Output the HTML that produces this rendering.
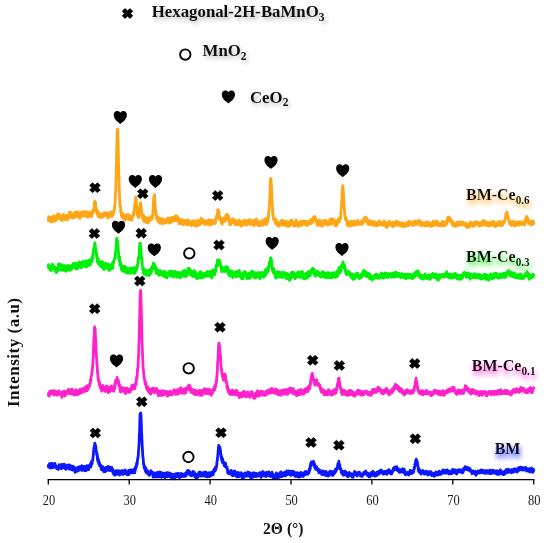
<!DOCTYPE html>
<html lang="en">
<head>
<meta charset="utf-8">
<title>XRD patterns</title>
<style>
html,body{margin:0;padding:0;background:#fff;}
body{width:550px;height:543px;overflow:hidden;}
svg{display:block;filter:blur(0.3px);font-family:"Liberation Serif","DejaVu Serif",serif;}
.cv{fill:none;stroke-width:2.8;stroke-linejoin:round;stroke-linecap:round;}
.b{font-weight:bold;fill:#111;}
.ax line{stroke:#000;stroke-width:1.3;}
.tk text{font-size:14.5px;fill:#1a1a1a;text-anchor:middle;}
</style>
</head>
<body>
<svg width="550" height="543" viewBox="0 0 550 543">
<defs>
<path id="cr" d="M5.4,2.25 L2.43,5 L0,2.75 L-2.43,5 L-5.4,2.25 L-2.97,0 L-5.4,-2.25 L-2.43,-5 L0,-2.75 L2.43,-5 L5.4,-2.25 L2.97,0 Z" fill="#000" stroke="#000" stroke-width="0.6" stroke-linejoin="round"/>
<path id="ht" d="M0,6.5 C-2.2,4.7 -6.6,1.9 -6.6,-2.4 C-6.6,-5 -4.9,-6.4 -3.2,-6.4 C-1.8,-6.4 -0.6,-5.7 0,-4.7 C0.6,-5.7 1.8,-6.4 3.2,-6.4 C4.9,-6.4 6.6,-5 6.6,-2.4 C6.6,1.9 2.2,4.7 0,6.5 Z" fill="#000"/>
<filter id="sg" x="-20%" y="-40%" width="140%" height="200%"><feGaussianBlur in="SourceAlpha" stdDeviation="2"/><feOffset dx="1.5" dy="3"/><feComponentTransfer><feFuncA type="linear" slope="0.28"/></feComponentTransfer><feMerge><feMergeNode/><feMergeNode in="SourceGraphic"/></feMerge></filter>
</defs>
<rect width="550" height="543" fill="#fff"/>

<!-- legend -->
<g class="b" font-size="17.6px" filter="url(#sg)">
<text transform="translate(151.8,17) scale(0.955,1)">Hexagonal-2H-BaMnO<tspan font-size="12px" dy="3.6">3</tspan></text>
<text transform="translate(202.6,56.4) scale(0.955,1)">MnO<tspan font-size="12px" dy="3.6">2</tspan></text>
<text transform="translate(250,102.5) scale(0.955,1)">CeO<tspan font-size="12px" dy="3.6">2</tspan></text>
</g>

<!-- curves -->
<polyline class="cv" stroke="#ffa616" points="48.3,219.1 48.5,220.5 48.7,216.6 48.9,218.6 49.1,218.0 49.3,217.7 49.5,218.5 49.7,219.1 49.9,219.8 50.1,220.1 50.3,219.4 50.5,220.8 50.7,218.8 50.9,222.0 51.1,217.5 51.3,220.8 51.5,219.0 51.7,220.1 51.9,217.2 52.1,217.3 52.3,220.4 52.5,221.5 52.7,218.1 52.9,219.6 53.1,219.7 53.3,220.1 53.5,216.2 53.7,215.6 53.9,216.6 54.1,220.7 54.3,217.2 54.5,218.7 54.7,221.4 54.9,219.4 55.1,220.6 55.3,218.5 55.5,220.0 55.7,220.6 55.9,216.5 56.1,219.6 56.3,220.3 56.5,219.0 56.7,216.1 56.9,218.5 57.1,214.6 57.3,216.1 57.5,218.4 57.7,215.4 57.9,215.1 58.1,214.6 58.3,213.7 58.5,217.3 58.7,214.7 58.9,215.1 59.1,216.7 59.3,214.6 59.5,218.1 59.7,216.4 59.9,218.3 60.1,218.7 60.3,215.9 60.5,217.6 60.7,219.1 60.9,218.5 61.1,216.9 61.3,219.8 61.5,219.8 61.7,218.3 61.9,220.6 62.1,219.0 62.3,220.3 62.5,216.0 62.7,215.9 62.9,219.1 63.1,216.5 63.3,214.5 63.5,218.4 63.7,215.7 63.9,218.1 64.1,217.8 64.3,219.1 64.5,218.2 64.7,219.0 64.9,216.7 65.1,216.3 65.3,219.7 65.5,216.8 65.7,219.7 65.9,217.8 66.1,217.8 66.3,215.1 66.5,218.9 66.7,216.4 66.9,217.0 67.1,216.5 67.3,215.8 67.5,219.8 67.7,217.8 67.9,215.3 68.1,217.9 68.3,216.0 68.5,217.2 68.7,218.3 68.9,215.3 69.1,217.2 69.3,215.7 69.5,212.1 69.7,216.9 69.9,215.2 70.1,217.1 70.3,212.5 70.5,212.2 70.7,216.7 70.9,215.6 71.1,213.0 71.3,216.3 71.5,217.0 71.7,217.7 71.9,216.4 72.1,213.8 72.3,214.0 72.5,214.1 72.7,213.9 72.9,215.3 73.1,218.0 73.3,216.7 73.5,216.0 73.7,217.5 73.9,213.9 74.1,214.7 74.3,215.4 74.5,217.5 74.7,215.4 74.9,212.3 75.1,216.3 75.3,212.7 75.5,215.9 75.7,213.7 75.9,216.5 76.1,215.5 76.3,215.0 76.5,212.8 76.7,212.0 76.9,212.5 77.1,212.6 77.3,213.4 77.5,214.0 77.7,216.3 77.9,214.9 78.1,212.0 78.3,212.5 78.5,217.2 78.7,215.9 78.9,214.1 79.1,214.1 79.3,216.4 79.5,213.6 79.7,216.1 79.9,218.5 80.1,217.9 80.3,214.2 80.5,215.5 80.7,215.3 80.9,216.5 81.1,213.2 81.3,212.0 81.5,212.3 81.7,213.9 81.9,214.3 82.1,214.2 82.3,213.1 82.5,216.0 82.7,214.3 82.9,213.0 83.1,213.6 83.3,214.7 83.5,214.2 83.7,212.5 83.9,211.4 84.1,213.3 84.3,214.8 84.5,212.9 84.7,215.7 84.9,211.8 85.1,212.9 85.3,216.4 85.5,213.1 85.7,215.5 85.9,215.1 86.1,216.2 86.3,213.2 86.5,211.9 86.7,215.2 86.9,215.8 87.1,216.3 87.3,216.2 87.5,211.7 87.7,213.0 87.9,214.8 88.1,217.3 88.3,216.4 88.5,214.7 88.7,216.6 88.9,214.8 89.1,213.3 89.3,213.5 89.5,214.2 89.7,213.5 89.9,215.4 90.1,215.0 90.3,212.5 90.5,215.6 90.7,212.1 90.9,211.9 91.1,212.3 91.3,214.3 91.5,211.6 91.7,216.5 91.9,216.3 92.1,211.8 92.3,212.8 92.5,213.2 92.7,210.8 92.9,213.3 93.1,210.1 93.3,212.6 93.5,209.4 93.7,209.6 93.9,207.8 94.1,207.0 94.3,203.4 94.5,202.7 94.7,203.5 94.9,201.0 95.1,202.0 95.3,203.3 95.5,202.2 95.7,206.9 95.9,207.2 96.1,209.8 96.3,207.9 96.5,211.8 96.7,211.1 96.9,210.2 97.1,214.3 97.3,214.0 97.5,210.9 97.7,212.8 97.9,214.7 98.1,216.3 98.3,211.7 98.5,216.6 98.7,213.6 98.9,216.8 99.1,215.2 99.3,216.4 99.5,215.4 99.7,216.0 99.9,214.1 100.1,216.0 100.3,216.7 100.5,217.7 100.7,217.4 100.9,216.7 101.1,217.5 101.3,214.7 101.5,216.2 101.7,214.6 101.9,214.1 102.1,214.5 102.3,214.5 102.5,213.9 102.7,215.1 102.9,214.3 103.1,217.1 103.3,215.7 103.5,213.1 103.7,214.4 103.9,213.8 104.1,215.5 104.3,215.7 104.5,215.7 104.7,214.6 104.9,212.6 105.1,212.8 105.3,215.4 105.5,213.7 105.7,215.1 105.9,214.2 106.1,215.3 106.3,214.8 106.5,216.1 106.7,215.3 106.9,215.0 107.1,214.0 107.3,212.6 107.5,214.5 107.7,212.9 107.9,218.1 108.1,214.0 108.3,217.3 108.5,217.5 108.7,215.8 108.9,215.1 109.1,213.2 109.3,214.7 109.5,213.8 109.7,213.2 109.9,214.6 110.1,213.3 110.3,215.8 110.5,216.2 110.7,212.9 110.9,211.8 111.1,211.9 111.3,213.3 111.5,215.2 111.7,213.2 111.9,213.4 112.1,216.3 112.3,214.0 112.5,215.3 112.7,213.3 112.9,212.4 113.1,214.6 113.3,214.4 113.5,211.4 113.7,212.7 113.9,211.3 114.1,211.0 114.3,207.8 114.5,209.2 114.7,205.2 114.9,204.7 115.1,203.4 115.3,196.5 115.5,193.8 115.7,191.7 115.9,185.3 116.1,176.1 116.3,170.0 116.5,161.8 116.7,151.9 116.9,143.3 117.1,132.4 117.3,129.8 117.5,129.1 117.7,131.0 117.9,138.2 118.1,142.1 118.3,153.6 118.5,162.3 118.7,168.4 118.9,176.5 119.1,184.7 119.3,189.5 119.5,196.3 119.7,198.5 119.9,203.3 120.1,207.1 120.3,205.7 120.5,206.4 120.7,211.4 120.9,210.5 121.1,214.1 121.3,213.0 121.5,216.4 121.7,214.5 121.9,214.3 122.1,213.1 122.3,215.1 122.5,213.6 122.7,214.7 122.9,218.0 123.1,213.8 123.3,215.5 123.5,218.1 123.7,217.3 123.9,217.9 124.1,215.4 124.3,217.3 124.5,218.2 124.7,220.2 124.9,215.9 125.1,216.5 125.3,216.7 125.5,219.0 125.7,217.4 125.9,215.4 126.1,217.2 126.3,215.1 126.5,218.5 126.7,216.3 126.9,214.5 127.1,217.5 127.3,219.0 127.5,216.1 127.7,218.2 127.9,217.2 128.1,217.1 128.3,219.1 128.5,218.5 128.7,214.6 128.9,218.4 129.1,217.0 129.3,219.7 129.5,216.4 129.7,216.4 129.9,215.5 130.1,217.9 130.3,216.2 130.5,218.7 130.7,218.9 130.9,218.8 131.1,219.7 131.3,217.4 131.5,220.2 131.7,218.6 131.9,220.4 132.1,219.1 132.3,216.6 132.5,216.1 132.7,215.7 132.9,215.2 133.1,216.6 133.3,213.8 133.5,212.3 133.7,214.9 133.9,211.8 134.1,212.5 134.3,209.7 134.5,207.4 134.7,205.8 134.9,204.0 135.1,203.7 135.3,200.2 135.5,201.3 135.7,196.8 135.9,201.2 136.1,199.0 136.3,203.6 136.5,202.8 136.7,207.6 136.9,206.8 137.1,213.0 137.3,214.2 137.5,215.2 137.7,216.1 137.9,212.8 138.1,213.6 138.3,214.0 138.5,216.6 138.7,217.8 138.9,217.2 139.1,215.3 139.3,213.9 139.5,213.1 139.7,208.9 139.9,206.3 140.1,204.6 140.3,203.0 140.5,206.0 140.7,202.9 140.9,204.6 141.1,208.8 141.3,208.2 141.5,213.4 141.7,210.9 141.9,213.8 142.1,213.7 142.3,217.8 142.5,215.4 142.7,215.9 142.9,217.2 143.1,219.9 143.3,215.0 143.5,219.0 143.7,221.2 143.9,217.2 144.1,219.3 144.3,218.2 144.5,221.5 144.7,220.2 144.9,220.8 145.1,220.0 145.3,221.2 145.5,219.7 145.7,217.3 145.9,220.2 146.1,219.6 146.3,221.1 146.5,222.7 146.7,220.5 146.9,219.2 147.1,219.8 147.3,222.9 147.5,223.1 147.7,222.7 147.9,222.9 148.1,219.0 148.3,218.1 148.5,219.5 148.7,219.4 148.9,219.0 149.1,220.7 149.3,219.8 149.5,221.1 149.7,218.1 149.9,220.7 150.1,217.8 150.3,219.7 150.5,218.0 150.7,216.7 150.9,217.6 151.1,219.6 151.3,218.1 151.5,218.4 151.7,216.0 151.9,217.5 152.1,219.1 152.3,217.3 152.5,215.2 152.7,215.9 152.9,213.3 153.1,209.0 153.3,203.8 153.5,201.5 153.7,198.0 153.9,197.7 154.1,195.9 154.3,198.4 154.5,194.7 154.7,200.5 154.9,202.3 155.1,205.7 155.3,207.6 155.5,210.1 155.7,211.9 155.9,211.2 156.1,214.0 156.3,216.1 156.5,218.8 156.7,217.6 156.9,217.6 157.1,216.8 157.3,216.0 157.5,220.4 157.7,218.0 157.9,221.7 158.1,218.3 158.3,218.2 158.5,218.8 158.7,221.1 158.9,220.2 159.1,218.2 159.3,219.8 159.5,221.2 159.7,222.7 159.9,223.2 160.1,219.7 160.3,219.7 160.5,222.1 160.7,223.2 160.9,218.7 161.1,222.2 161.3,222.1 161.5,220.3 161.7,222.4 161.9,221.7 162.1,218.6 162.3,221.5 162.5,223.9 162.7,223.9 162.9,222.9 163.1,223.1 163.3,222.5 163.5,220.9 163.7,222.4 163.9,222.5 164.1,220.7 164.3,223.2 164.5,219.6 164.7,222.6 164.9,220.6 165.1,223.1 165.3,221.0 165.5,222.9 165.7,220.5 165.9,220.1 166.1,222.7 166.3,220.4 166.5,222.7 166.7,222.2 166.9,219.2 167.1,219.4 167.3,219.2 167.5,219.0 167.7,220.1 167.9,218.0 168.1,218.9 168.3,221.4 168.5,222.0 168.7,218.2 168.9,219.3 169.1,219.2 169.3,223.2 169.5,222.4 169.7,221.6 169.9,220.3 170.1,222.8 170.3,220.8 170.5,222.7 170.7,221.5 170.9,220.3 171.1,217.7 171.3,222.4 171.5,217.6 171.7,217.7 171.9,218.9 172.1,218.5 172.3,217.3 172.5,220.3 172.7,217.9 172.9,219.9 173.1,220.8 173.3,217.6 173.5,219.9 173.7,220.1 173.9,219.5 174.1,219.4 174.3,217.4 174.5,219.8 174.7,220.8 174.9,218.4 175.1,220.3 175.3,216.0 175.5,220.0 175.7,217.2 175.9,217.9 176.1,217.0 176.3,216.0 176.5,220.6 176.7,217.8 176.9,218.8 177.1,218.2 177.3,216.9 177.5,217.5 177.7,216.8 177.9,219.6 178.1,219.1 178.3,219.9 178.5,218.8 178.7,222.4 178.9,218.7 179.1,224.0 179.3,220.2 179.5,221.9 179.7,218.9 179.9,223.3 180.1,220.1 180.3,222.0 180.5,223.4 180.7,219.9 180.9,222.4 181.1,220.4 181.3,222.7 181.5,223.3 181.7,220.5 181.9,223.9 182.1,219.7 182.3,223.8 182.5,221.8 182.7,221.7 182.9,223.4 183.1,223.6 183.3,224.9 183.5,221.4 183.7,220.4 183.9,224.5 184.1,223.5 184.3,222.8 184.5,221.6 184.7,222.5 184.9,222.5 185.1,220.6 185.3,223.4 185.5,222.9 185.7,221.8 185.9,221.3 186.1,223.2 186.3,220.1 186.5,224.2 186.7,224.8 186.9,221.3 187.1,220.3 187.3,220.8 187.5,221.6 187.7,224.9 187.9,223.0 188.1,221.4 188.3,220.0 188.5,221.0 188.7,222.7 188.9,221.6 189.1,222.5 189.3,222.2 189.5,223.9 189.7,222.2 189.9,221.9 190.1,224.2 190.3,222.5 190.5,223.8 190.7,222.6 190.9,224.2 191.1,225.5 191.3,223.7 191.5,225.6 191.7,223.3 191.9,224.0 192.1,221.2 192.3,222.4 192.5,224.5 192.7,223.4 192.9,224.2 193.1,222.7 193.3,222.4 193.5,224.0 193.7,220.7 193.9,223.3 194.1,225.2 194.3,223.3 194.5,222.2 194.7,225.5 194.9,222.1 195.1,224.9 195.3,224.0 195.5,226.0 195.7,224.1 195.9,225.9 196.1,221.5 196.3,226.2 196.5,221.4 196.7,222.3 196.9,225.8 197.1,220.8 197.3,224.8 197.5,225.2 197.7,222.9 197.9,221.4 198.1,223.8 198.3,222.2 198.5,220.1 198.7,225.0 198.9,224.2 199.1,222.4 199.3,224.3 199.5,221.7 199.7,222.9 199.9,221.3 200.1,221.6 200.3,220.2 200.5,224.3 200.7,220.3 200.9,219.3 201.1,218.9 201.3,218.0 201.5,222.1 201.7,221.0 201.9,222.2 202.1,221.0 202.3,222.4 202.5,222.0 202.7,222.6 202.9,221.0 203.1,222.5 203.3,220.2 203.5,220.7 203.7,220.1 203.9,221.7 204.1,220.9 204.3,221.9 204.5,224.5 204.7,221.0 204.9,224.3 205.1,222.6 205.3,221.1 205.5,223.7 205.7,222.9 205.9,221.0 206.1,223.8 206.3,221.7 206.5,222.1 206.7,221.9 206.9,224.1 207.1,221.5 207.3,224.4 207.5,221.3 207.7,222.6 207.9,222.2 208.1,223.6 208.3,223.8 208.5,219.6 208.7,222.1 208.9,223.5 209.1,221.8 209.3,224.3 209.5,221.4 209.7,222.7 209.9,223.1 210.1,221.1 210.3,220.1 210.5,222.3 210.7,225.1 210.9,222.2 211.1,223.4 211.3,220.3 211.5,220.9 211.7,220.4 211.9,224.0 212.1,224.2 212.3,223.9 212.5,221.9 212.7,223.5 212.9,221.0 213.1,222.6 213.3,222.6 213.5,222.5 213.7,220.4 213.9,222.6 214.1,223.2 214.3,222.4 214.5,222.2 214.7,220.4 214.9,220.4 215.1,222.1 215.3,223.5 215.5,219.5 215.7,220.9 215.9,220.1 216.1,219.5 216.3,216.9 216.5,217.1 216.7,215.5 216.9,217.6 217.1,216.3 217.3,213.7 217.5,213.4 217.7,209.8 217.9,211.1 218.1,209.6 218.3,213.0 218.5,212.4 218.7,213.1 218.9,211.1 219.1,214.1 219.3,218.1 219.5,218.8 219.7,218.2 219.9,216.4 220.1,219.5 220.3,219.7 220.5,220.0 220.7,219.6 220.9,220.9 221.1,222.3 221.3,221.6 221.5,220.8 221.7,223.4 221.9,219.2 222.1,224.3 222.3,219.2 222.5,219.8 222.7,220.9 222.9,219.8 223.1,221.9 223.3,218.7 223.5,220.3 223.7,218.0 223.9,221.4 224.1,221.3 224.3,219.9 224.5,218.7 224.7,221.5 224.9,218.6 225.1,221.2 225.3,219.0 225.5,218.7 225.7,215.9 225.9,218.4 226.1,215.7 226.3,214.7 226.5,215.2 226.7,214.9 226.9,215.3 227.1,217.7 227.3,214.5 227.5,216.6 227.7,216.0 227.9,218.3 228.1,216.3 228.3,216.2 228.5,220.5 228.7,216.1 228.9,222.0 229.1,221.2 229.3,221.0 229.5,224.5 229.7,219.6 229.9,222.4 230.1,220.0 230.3,222.8 230.5,220.3 230.7,223.0 230.9,224.5 231.1,222.9 231.3,220.6 231.5,222.3 231.7,222.3 231.9,220.7 232.1,220.9 232.3,218.6 232.5,220.1 232.7,218.9 232.9,221.7 233.1,220.9 233.3,220.7 233.5,222.8 233.7,221.7 233.9,221.1 234.1,220.8 234.3,220.4 234.5,222.3 234.7,219.8 234.9,221.2 235.1,222.1 235.3,224.8 235.5,220.8 235.7,223.4 235.9,222.9 236.1,224.4 236.3,221.0 236.5,220.9 236.7,222.9 236.9,224.7 237.1,222.0 237.3,224.9 237.5,222.2 237.7,222.1 237.9,221.0 238.1,222.5 238.3,222.2 238.5,223.5 238.7,220.5 238.9,221.0 239.1,220.0 239.3,220.3 239.5,223.1 239.7,222.3 239.9,221.7 240.1,223.4 240.3,225.5 240.5,225.0 240.7,224.3 240.9,226.0 241.1,221.3 241.3,222.1 241.5,224.1 241.7,223.0 241.9,225.8 242.1,223.0 242.3,223.5 242.5,224.8 242.7,222.0 242.9,224.1 243.1,221.1 243.3,220.6 243.5,221.0 243.7,221.9 243.9,220.5 244.1,222.9 244.3,220.3 244.5,220.2 244.7,224.7 244.9,221.3 245.1,221.7 245.3,222.8 245.5,222.6 245.7,220.5 245.9,224.6 246.1,225.2 246.3,224.3 246.5,221.5 246.7,222.9 246.9,221.4 247.1,222.2 247.3,224.6 247.5,220.7 247.7,222.3 247.9,220.8 248.1,223.1 248.3,220.5 248.5,223.6 248.7,222.5 248.9,222.7 249.1,221.6 249.3,220.3 249.5,219.8 249.7,221.5 249.9,219.6 250.1,222.9 250.3,223.2 250.5,222.3 250.7,224.5 250.9,223.6 251.1,221.1 251.3,221.6 251.5,221.8 251.7,222.5 251.9,221.0 252.1,223.7 252.3,223.5 252.5,224.0 252.7,222.7 252.9,224.9 253.1,222.8 253.3,220.4 253.5,224.7 253.7,224.0 253.9,224.8 254.1,225.8 254.3,220.7 254.5,221.2 254.7,220.5 254.9,221.9 255.1,224.1 255.3,220.3 255.5,222.4 255.7,220.3 255.9,223.3 256.1,223.3 256.3,218.9 256.5,221.6 256.7,220.4 256.9,224.5 257.1,224.4 257.3,222.4 257.5,224.6 257.7,221.0 257.9,224.7 258.1,222.6 258.3,222.2 258.5,225.5 258.7,224.4 258.9,221.5 259.1,225.8 259.3,225.2 259.5,224.4 259.7,225.3 259.9,223.0 260.1,225.1 260.3,225.5 260.5,221.9 260.7,221.7 260.9,225.1 261.1,223.7 261.3,223.0 261.5,221.6 261.7,221.9 261.9,224.7 262.1,221.7 262.3,220.5 262.5,224.4 262.7,221.3 262.9,224.7 263.1,225.2 263.3,223.1 263.5,223.3 263.7,222.6 263.9,222.7 264.1,223.9 264.3,220.4 264.5,223.1 264.7,221.3 264.9,218.6 265.1,219.3 265.3,221.4 265.5,220.1 265.7,219.6 265.9,219.9 266.1,223.1 266.3,222.1 266.5,224.6 266.7,221.7 266.9,222.6 267.1,222.3 267.3,221.6 267.5,218.1 267.7,220.8 267.9,221.2 268.1,218.5 268.3,216.0 268.5,217.2 268.7,211.2 268.9,210.9 269.1,211.3 269.3,207.0 269.5,204.7 269.7,199.4 269.9,195.6 270.1,190.8 270.3,183.0 270.5,178.6 270.7,180.1 270.9,178.7 271.1,179.4 271.3,185.3 271.5,186.7 271.7,192.8 271.9,200.4 272.1,200.5 272.3,206.0 272.5,207.3 272.7,214.5 272.9,214.9 273.1,214.7 273.3,219.0 273.5,218.1 273.7,218.1 273.9,219.5 274.1,218.6 274.3,220.0 274.5,220.4 274.7,220.2 274.9,221.7 275.1,222.2 275.3,219.1 275.5,223.8 275.7,223.2 275.9,223.8 276.1,223.9 276.3,219.7 276.5,222.6 276.7,222.9 276.9,224.7 277.1,223.7 277.3,225.3 277.5,225.4 277.7,225.5 277.9,225.0 278.1,222.6 278.3,225.8 278.5,225.7 278.7,226.3 278.9,222.7 279.1,222.5 279.3,223.6 279.5,223.4 279.7,225.7 279.9,224.7 280.1,225.2 280.3,223.7 280.5,221.5 280.7,220.9 280.9,222.6 281.1,221.7 281.3,225.0 281.5,223.0 281.7,223.4 281.9,222.2 282.1,220.3 282.3,220.9 282.5,222.2 282.7,221.5 282.9,220.3 283.1,223.5 283.3,223.3 283.5,222.1 283.7,225.1 283.9,223.4 284.1,225.4 284.3,224.2 284.5,224.3 284.7,221.7 284.9,223.3 285.1,225.3 285.3,222.4 285.5,225.2 285.7,225.1 285.9,221.8 286.1,223.8 286.3,225.4 286.5,221.1 286.7,225.5 286.9,222.3 287.1,226.3 287.3,225.6 287.5,223.9 287.7,222.9 287.9,225.5 288.1,226.4 288.3,225.9 288.5,224.6 288.7,226.3 288.9,224.0 289.1,221.9 289.3,222.9 289.5,222.7 289.7,225.8 289.9,222.7 290.1,225.7 290.3,223.0 290.5,221.5 290.7,220.7 290.9,222.5 291.1,220.3 291.3,222.7 291.5,221.2 291.7,224.1 291.9,223.8 292.1,220.2 292.3,221.8 292.5,222.9 292.7,223.7 292.9,224.3 293.1,223.5 293.3,222.9 293.5,222.6 293.7,226.1 293.9,222.2 294.1,225.6 294.3,222.4 294.5,224.3 294.7,222.6 294.9,225.9 295.1,222.1 295.3,222.4 295.5,224.7 295.7,222.8 295.9,220.9 296.1,219.8 296.3,221.6 296.5,221.2 296.7,222.0 296.9,225.3 297.1,225.2 297.3,224.6 297.5,224.3 297.7,226.1 297.9,224.7 298.1,224.3 298.3,223.6 298.5,226.3 298.7,223.5 298.9,224.2 299.1,222.7 299.3,225.8 299.5,223.0 299.7,222.9 299.9,225.1 300.1,222.0 300.3,221.4 300.5,225.1 300.7,224.6 300.9,223.4 301.1,221.8 301.3,223.7 301.5,223.7 301.7,222.0 301.9,220.8 302.1,225.1 302.3,223.0 302.5,224.5 302.7,221.8 302.9,223.2 303.1,222.3 303.3,222.2 303.5,221.3 303.7,221.9 303.9,221.1 304.1,221.8 304.3,224.2 304.5,223.8 304.7,224.0 304.9,221.3 305.1,224.2 305.3,223.4 305.5,221.5 305.7,221.3 305.9,221.2 306.1,224.6 306.3,225.6 306.5,225.0 306.7,222.4 306.9,224.1 307.1,223.5 307.3,224.8 307.5,223.9 307.7,224.1 307.9,224.9 308.1,221.6 308.3,223.4 308.5,222.1 308.7,223.0 308.9,224.4 309.1,221.4 309.3,221.2 309.5,222.8 309.7,222.4 309.9,221.5 310.1,222.6 310.3,220.5 310.5,219.7 310.7,221.5 310.9,221.1 311.1,220.2 311.3,223.7 311.5,222.8 311.7,222.0 311.9,222.0 312.1,220.8 312.3,221.5 312.5,222.3 312.7,221.8 312.9,218.2 313.1,218.3 313.3,217.4 313.5,221.0 313.7,217.7 313.9,219.5 314.1,217.1 314.3,217.5 314.5,218.7 314.7,216.3 314.9,218.3 315.1,219.4 315.3,217.8 315.5,219.3 315.7,219.5 315.9,219.5 316.1,220.9 316.3,221.6 316.5,222.5 316.7,222.3 316.9,221.1 317.1,223.2 317.3,225.5 317.5,223.5 317.7,225.3 317.9,222.9 318.1,224.3 318.3,220.6 318.5,223.4 318.7,222.2 318.9,220.1 319.1,221.4 319.3,222.0 319.5,223.7 319.7,220.2 319.9,222.7 320.1,224.5 320.3,224.0 320.5,225.7 320.7,221.4 320.9,222.3 321.1,225.3 321.3,225.4 321.5,224.5 321.7,225.5 321.9,225.7 322.1,225.7 322.3,226.5 322.5,222.2 322.7,221.8 322.9,221.8 323.1,220.8 323.3,224.8 323.5,220.7 323.7,223.8 323.9,223.0 324.1,221.9 324.3,220.7 324.5,220.9 324.7,220.7 324.9,223.9 325.1,223.7 325.3,220.1 325.5,222.0 325.7,221.5 325.9,220.3 326.1,224.7 326.3,224.0 326.5,222.1 326.7,224.4 326.9,222.0 327.1,221.5 327.3,224.6 327.5,224.8 327.7,223.2 327.9,225.2 328.1,224.8 328.3,223.5 328.5,223.2 328.7,224.1 328.9,222.9 329.1,223.2 329.3,224.7 329.5,223.6 329.7,220.4 329.9,219.3 330.1,219.6 330.3,220.3 330.5,219.3 330.7,221.6 330.9,222.4 331.1,218.8 331.3,222.6 331.5,223.7 331.7,224.0 331.9,219.4 332.1,218.9 332.3,219.2 332.5,220.6 332.7,219.5 332.9,220.5 333.1,221.0 333.3,223.1 333.5,220.3 333.7,219.7 333.9,221.0 334.1,222.3 334.3,219.9 334.5,223.2 334.7,223.7 334.9,224.3 335.1,225.4 335.3,223.2 335.5,223.4 335.7,222.0 335.9,222.8 336.1,226.2 336.3,222.8 336.5,225.1 336.7,224.9 336.9,225.0 337.1,220.8 337.3,224.4 337.5,223.3 337.7,220.9 337.9,221.1 338.1,219.4 338.3,220.5 338.5,219.2 338.7,219.5 338.9,218.8 339.1,220.9 339.3,220.0 339.5,221.5 339.7,218.3 339.9,219.7 340.1,217.1 340.3,218.9 340.5,218.9 340.7,218.0 340.9,211.6 341.1,210.4 341.3,207.7 341.5,204.0 341.7,200.5 341.9,198.8 342.1,192.6 342.3,189.5 342.5,188.4 342.7,185.7 342.9,185.7 343.1,189.1 343.3,190.9 343.5,195.4 343.7,198.4 343.9,202.7 344.1,204.8 344.3,207.7 344.5,209.3 344.7,214.4 344.9,215.8 345.1,217.4 345.3,215.4 345.5,219.8 345.7,220.0 345.9,217.7 346.1,218.5 346.3,220.3 346.5,219.7 346.7,221.3 346.9,220.9 347.1,224.6 347.3,222.5 347.5,224.6 347.7,223.3 347.9,223.1 348.1,225.7 348.3,222.0 348.5,224.0 348.7,224.5 348.9,223.6 349.1,221.6 349.3,224.0 349.5,223.7 349.7,225.9 349.9,223.6 350.1,223.4 350.3,222.5 350.5,224.3 350.7,225.9 350.9,221.3 351.1,224.6 351.3,221.8 351.5,221.6 351.7,221.8 351.9,224.7 352.1,224.7 352.3,222.1 352.5,225.7 352.7,224.8 352.9,223.6 353.1,223.7 353.3,224.2 353.5,222.0 353.7,221.1 353.9,222.3 354.1,221.2 354.3,224.5 354.5,223.2 354.7,222.5 354.9,224.5 355.1,222.2 355.3,223.2 355.5,223.0 355.7,222.5 355.9,221.7 356.1,225.2 356.3,221.5 356.5,224.1 356.7,221.6 356.9,221.0 357.1,222.9 357.3,223.5 357.5,223.8 357.7,221.4 357.9,220.3 358.1,224.0 358.3,223.6 358.5,224.4 358.7,223.5 358.9,224.3 359.1,224.3 359.3,222.5 359.5,222.8 359.7,222.7 359.9,223.5 360.1,223.3 360.3,222.7 360.5,223.7 360.7,222.4 360.9,223.5 361.1,221.2 361.3,221.0 361.5,224.3 361.7,223.3 361.9,221.3 362.1,222.2 362.3,224.4 362.5,220.4 362.7,220.2 362.9,222.3 363.1,220.5 363.3,222.7 363.5,221.4 363.7,221.5 363.9,218.3 364.1,218.9 364.3,220.6 364.5,219.4 364.7,217.7 364.9,218.8 365.1,219.9 365.3,217.1 365.5,220.2 365.7,220.7 365.9,221.3 366.1,219.5 366.3,218.0 366.5,219.9 366.7,217.8 366.9,218.5 367.1,219.6 367.3,220.7 367.5,222.6 367.7,220.2 367.9,222.7 368.1,224.3 368.3,220.7 368.5,222.4 368.7,223.7 368.9,224.5 369.1,221.8 369.3,224.3 369.5,222.3 369.7,224.7 369.9,220.9 370.1,220.6 370.3,224.6 370.5,223.7 370.7,223.0 370.9,222.0 371.1,224.1 371.3,221.7 371.5,222.4 371.7,222.1 371.9,223.4 372.1,224.0 372.3,224.7 372.5,225.0 372.7,223.3 372.9,223.1 373.1,222.8 373.3,225.2 373.5,221.4 373.7,224.6 373.9,222.6 374.1,224.0 374.3,224.3 374.5,222.0 374.7,222.0 374.9,223.4 375.1,224.6 375.3,224.5 375.5,222.6 375.7,225.9 375.9,223.8 376.1,225.4 376.3,224.2 376.5,222.7 376.7,223.4 376.9,225.7 377.1,225.2 377.3,225.9 377.5,223.1 377.7,224.4 377.9,224.7 378.1,224.4 378.3,222.7 378.5,223.1 378.7,221.8 378.9,224.9 379.1,224.9 379.3,221.0 379.5,223.7 379.7,222.0 379.9,223.3 380.1,221.6 380.3,223.3 380.5,222.4 380.7,222.2 380.9,224.5 381.1,224.8 381.3,223.1 381.5,222.2 381.7,225.1 381.9,224.6 382.1,224.9 382.3,222.8 382.5,225.0 382.7,222.8 382.9,224.2 383.1,225.0 383.3,225.2 383.5,223.2 383.7,224.5 383.9,224.9 384.1,223.7 384.3,221.0 384.5,221.7 384.7,221.7 384.9,222.4 385.1,222.4 385.3,225.2 385.5,222.2 385.7,223.2 385.9,226.4 386.1,227.3 386.3,226.2 386.5,227.4 386.7,223.3 386.9,227.3 387.1,224.2 387.3,225.9 387.5,226.3 387.7,226.5 387.9,224.4 388.1,225.8 388.3,222.7 388.5,225.3 388.7,223.9 388.9,225.2 389.1,221.1 389.3,224.5 389.5,223.5 389.7,223.1 389.9,222.3 390.1,222.6 390.3,222.4 390.5,222.7 390.7,225.1 390.9,223.9 391.1,222.4 391.3,225.7 391.5,224.8 391.7,225.7 391.9,224.8 392.1,223.9 392.3,226.1 392.5,222.3 392.7,226.2 392.9,226.7 393.1,223.8 393.3,222.4 393.5,224.1 393.7,222.4 393.9,224.8 394.1,222.9 394.3,223.1 394.5,225.7 394.7,225.6 394.9,223.3 395.1,225.1 395.3,222.5 395.5,225.3 395.7,223.0 395.9,222.4 396.1,221.1 396.3,224.8 396.5,221.9 396.7,223.4 396.9,223.3 397.1,223.8 397.3,221.6 397.5,225.1 397.7,224.6 397.9,223.2 398.1,225.2 398.3,223.0 398.5,224.8 398.7,223.6 398.9,224.6 399.1,222.9 399.3,225.3 399.5,222.2 399.7,222.3 399.9,222.3 400.1,223.0 400.3,223.6 400.5,226.3 400.7,223.1 400.9,225.4 401.1,225.3 401.3,224.5 401.5,224.2 401.7,224.5 401.9,223.6 402.1,226.1 402.3,226.3 402.5,225.0 402.7,225.9 402.9,223.0 403.1,226.5 403.3,226.0 403.5,224.9 403.7,223.5 403.9,224.0 404.1,224.3 404.3,226.0 404.5,225.8 404.7,224.6 404.9,224.9 405.1,226.1 405.3,226.6 405.5,225.1 405.7,225.7 405.9,223.4 406.1,225.6 406.3,224.8 406.5,223.4 406.7,224.4 406.9,224.8 407.1,225.0 407.3,222.1 407.5,223.9 407.7,225.7 407.9,225.0 408.1,223.3 408.3,225.9 408.5,222.9 408.7,223.1 408.9,225.0 409.1,224.3 409.3,224.8 409.5,221.1 409.7,222.4 409.9,222.5 410.1,222.4 410.3,224.4 410.5,224.0 410.7,223.3 410.9,223.1 411.1,224.0 411.3,223.4 411.5,223.6 411.7,223.9 411.9,223.1 412.1,224.9 412.3,222.4 412.5,224.6 412.7,225.6 412.9,221.7 413.1,224.6 413.3,222.2 413.5,223.9 413.7,224.0 413.9,221.9 414.1,225.1 414.3,223.8 414.5,222.4 414.7,224.8 414.9,221.7 415.1,223.3 415.3,220.9 415.5,222.6 415.7,221.5 415.9,223.3 416.1,223.6 416.3,223.3 416.5,223.5 416.7,224.2 416.9,224.3 417.1,223.7 417.3,223.1 417.5,222.8 417.7,224.4 417.9,223.9 418.1,221.4 418.3,222.8 418.5,223.8 418.7,220.5 418.9,223.3 419.1,223.6 419.3,222.6 419.5,220.9 419.7,221.7 419.9,224.6 420.1,221.5 420.3,222.8 420.5,224.0 420.7,222.2 420.9,225.8 421.1,221.9 421.3,223.9 421.5,224.3 421.7,222.3 421.9,223.4 422.1,223.9 422.3,225.1 422.5,224.6 422.7,224.2 422.9,224.7 423.1,223.7 423.3,223.9 423.5,224.2 423.7,222.8 423.9,225.5 424.1,224.4 424.3,225.9 424.5,222.9 424.7,223.8 424.9,225.5 425.1,224.9 425.3,225.0 425.5,224.3 425.7,225.1 425.9,225.7 426.1,222.2 426.3,224.8 426.5,225.8 426.7,222.0 426.9,223.0 427.1,222.2 427.3,225.2 427.5,221.8 427.7,225.5 427.9,223.0 428.1,225.7 428.3,222.7 428.5,223.6 428.7,224.9 428.9,224.2 429.1,223.6 429.3,223.8 429.5,224.5 429.7,223.8 429.9,223.3 430.1,222.7 430.3,223.1 430.5,222.8 430.7,225.7 430.9,226.7 431.1,225.0 431.3,223.5 431.5,224.9 431.7,225.4 431.9,224.3 432.1,225.7 432.3,226.1 432.5,225.7 432.7,224.3 432.9,223.0 433.1,223.7 433.3,221.2 433.5,225.5 433.7,222.4 433.9,225.1 434.1,224.7 434.3,224.7 434.5,222.1 434.7,222.3 434.9,223.1 435.1,224.7 435.3,222.9 435.5,224.5 435.7,222.2 435.9,223.6 436.1,225.2 436.3,222.9 436.5,221.0 436.7,222.4 436.9,221.8 437.1,222.5 437.3,221.8 437.5,221.4 437.7,224.2 437.9,224.6 438.1,225.2 438.3,222.9 438.5,225.5 438.7,225.7 438.9,225.3 439.1,223.3 439.3,223.7 439.5,223.4 439.7,224.2 439.9,224.2 440.1,224.2 440.3,225.5 440.5,225.8 440.7,225.5 440.9,225.9 441.1,224.7 441.3,225.9 441.5,225.1 441.7,224.6 441.9,222.6 442.1,223.9 442.3,221.4 442.5,221.6 442.7,221.7 442.9,224.0 443.1,222.6 443.3,223.6 443.5,222.2 443.7,223.0 443.9,225.9 444.1,223.9 444.3,222.5 444.5,224.1 444.7,225.5 444.9,224.8 445.1,222.0 445.3,222.1 445.5,224.5 445.7,221.8 445.9,222.1 446.1,221.6 446.3,224.4 446.5,222.4 446.7,222.7 446.9,222.9 447.1,223.6 447.3,221.2 447.5,218.4 447.7,221.2 447.9,217.5 448.1,220.8 448.3,218.9 448.5,220.0 448.7,218.5 448.9,217.4 449.1,217.0 449.3,218.1 449.5,221.0 449.7,218.0 449.9,219.6 450.1,219.2 450.3,221.4 450.5,221.5 450.7,220.4 450.9,219.6 451.1,220.1 451.3,221.2 451.5,221.7 451.7,222.8 451.9,223.8 452.1,221.0 452.3,224.3 452.5,223.3 452.7,224.1 452.9,225.6 453.1,223.1 453.3,223.3 453.5,224.4 453.7,223.5 453.9,223.0 454.1,223.0 454.3,224.0 454.5,226.1 454.7,225.5 454.9,226.4 455.1,225.4 455.3,224.5 455.5,225.3 455.7,224.5 455.9,223.4 456.1,226.4 456.3,224.3 456.5,224.6 456.7,225.8 456.9,225.8 457.1,222.1 457.3,222.4 457.5,222.8 457.7,222.2 457.9,223.1 458.1,224.8 458.3,225.1 458.5,223.9 458.7,222.7 458.9,222.8 459.1,225.1 459.3,222.4 459.5,224.1 459.7,225.1 459.9,222.9 460.1,222.4 460.3,221.6 460.5,222.2 460.7,224.6 460.9,222.2 461.1,222.6 461.3,222.4 461.5,224.8 461.7,223.3 461.9,223.9 462.1,222.8 462.3,224.0 462.5,224.2 462.7,223.9 462.9,223.2 463.1,222.1 463.3,225.0 463.5,222.4 463.7,223.4 463.9,222.7 464.1,222.6 464.3,224.3 464.5,223.7 464.7,222.8 464.9,223.8 465.1,223.3 465.3,224.7 465.5,223.1 465.7,226.1 465.9,225.1 466.1,225.6 466.3,224.3 466.5,224.0 466.7,225.3 466.9,227.5 467.1,224.0 467.3,224.9 467.5,226.3 467.7,225.5 467.9,224.2 468.1,224.1 468.3,225.1 468.5,226.0 468.7,226.1 468.9,226.7 469.1,225.9 469.3,223.7 469.5,227.1 469.7,226.1 469.9,223.6 470.1,223.5 470.3,225.4 470.5,221.9 470.7,224.0 470.9,222.3 471.1,224.6 471.3,222.6 471.5,224.5 471.7,222.7 471.9,224.5 472.1,225.6 472.3,224.3 472.5,223.5 472.7,225.8 472.9,226.2 473.1,224.5 473.3,224.8 473.5,226.1 473.7,226.0 473.9,225.4 474.1,225.2 474.3,225.5 474.5,225.6 474.7,221.9 474.9,223.1 475.1,223.6 475.3,224.8 475.5,222.2 475.7,223.3 475.9,221.9 476.1,222.4 476.3,223.1 476.5,224.1 476.7,223.2 476.9,224.3 477.1,224.3 477.3,223.8 477.5,221.8 477.7,222.5 477.9,223.6 478.1,223.2 478.3,225.1 478.5,225.1 478.7,224.9 478.9,224.4 479.1,225.7 479.3,223.5 479.5,222.7 479.7,226.1 479.9,224.8 480.1,226.0 480.3,224.0 480.5,223.3 480.7,224.3 480.9,225.2 481.1,222.4 481.3,222.7 481.5,224.3 481.7,224.6 481.9,225.2 482.1,221.7 482.3,223.2 482.5,222.4 482.7,223.4 482.9,221.5 483.1,223.1 483.3,221.5 483.5,220.3 483.7,222.6 483.9,221.0 484.1,223.9 484.3,224.0 484.5,225.0 484.7,223.1 484.9,225.0 485.1,222.9 485.3,223.0 485.5,224.0 485.7,223.5 485.9,223.2 486.1,223.4 486.3,221.6 486.5,222.8 486.7,221.9 486.9,224.2 487.1,223.7 487.3,225.7 487.5,223.5 487.7,225.2 487.9,223.4 488.1,224.5 488.3,225.3 488.5,224.5 488.7,225.5 488.9,223.4 489.1,226.1 489.3,222.7 489.5,225.3 489.7,222.7 489.9,224.0 490.1,225.1 490.3,224.7 490.5,223.8 490.7,222.3 490.9,224.0 491.1,225.4 491.3,223.2 491.5,223.9 491.7,221.8 491.9,223.1 492.1,223.5 492.3,225.0 492.5,222.0 492.7,225.2 492.9,224.1 493.1,224.1 493.3,221.5 493.5,222.4 493.7,222.9 493.9,222.0 494.1,224.6 494.3,226.1 494.5,225.1 494.7,224.7 494.9,225.7 495.1,224.5 495.3,225.1 495.5,226.1 495.7,226.7 495.9,224.7 496.1,224.9 496.3,226.2 496.5,224.4 496.7,222.7 496.9,222.8 497.1,222.9 497.3,223.8 497.5,224.3 497.7,225.5 497.9,224.7 498.1,222.6 498.3,224.2 498.5,222.0 498.7,222.6 498.9,222.3 499.1,222.3 499.3,221.4 499.5,222.1 499.7,221.4 499.9,225.2 500.1,223.6 500.3,225.7 500.5,225.4 500.7,224.5 500.9,225.7 501.1,225.3 501.3,224.4 501.5,224.8 501.7,225.5 501.9,224.3 502.1,222.2 502.3,222.9 502.5,224.8 502.7,224.9 502.9,223.3 503.1,221.3 503.3,223.3 503.5,222.3 503.7,222.8 503.9,222.4 504.1,222.8 504.3,221.1 504.5,221.1 504.7,220.6 504.9,219.6 505.1,219.3 505.3,218.7 505.5,217.9 505.7,215.3 505.9,213.6 506.1,216.3 506.3,214.4 506.5,214.4 506.7,214.9 506.9,212.1 507.1,215.6 507.3,212.7 507.5,216.2 507.7,216.2 507.9,217.4 508.1,216.6 508.3,217.2 508.5,218.9 508.7,221.2 508.9,220.6 509.1,221.7 509.3,221.6 509.5,223.3 509.7,222.6 509.9,220.9 510.1,223.3 510.3,223.1 510.5,224.6 510.7,222.8 510.9,222.3 511.1,223.3 511.3,223.4 511.5,225.5 511.7,223.0 511.9,224.3 512.1,223.7 512.3,222.8 512.5,221.4 512.7,223.8 512.9,221.6 513.1,221.6 513.3,221.8 513.5,223.1 513.7,221.5 513.9,224.1 514.1,222.1 514.3,226.1 514.5,224.6 514.7,223.9 514.9,223.3 515.1,225.4 515.3,225.7 515.5,223.8 515.7,225.3 515.9,222.9 516.1,225.3 516.3,223.8 516.5,223.3 516.7,224.6 516.9,222.0 517.1,224.6 517.3,224.2 517.5,224.4 517.7,223.0 517.9,224.1 518.1,224.1 518.3,222.9 518.5,224.8 518.7,223.3 518.9,225.2 519.1,222.1 519.3,222.6 519.5,221.8 519.7,223.6 519.9,223.7 520.1,223.2 520.3,224.3 520.5,222.0 520.7,222.2 520.9,224.6 521.1,223.9 521.3,223.8 521.5,222.2 521.7,223.1 521.9,223.9 522.1,222.4 522.3,222.0 522.5,222.5 522.7,224.0 522.9,222.1 523.1,224.4 523.3,222.6 523.5,223.1 523.7,224.1 523.9,222.7 524.1,223.0 524.3,221.8 524.5,225.1 524.7,222.9 524.9,221.3 525.1,219.9 525.3,221.0 525.5,220.2 525.7,221.8 525.9,218.5 526.1,219.4 526.3,218.8 526.5,216.4 526.7,218.5 526.9,220.2 527.1,217.6 527.3,220.1 527.5,218.3 527.7,219.0 527.9,219.1 528.1,221.2 528.3,223.5 528.5,222.1 528.7,220.0 528.9,222.8 529.1,221.1 529.3,220.7 529.5,223.5 529.7,223.1 529.9,221.3 530.1,221.4 530.3,223.1 530.5,224.6 530.7,222.9 530.9,224.5 531.1,222.7 531.3,222.3 531.5,224.7 531.7,221.8 531.9,221.9 532.1,223.5 532.3,221.1 532.5,220.8 532.7,222.4 532.9,222.1 533.1,222.4 533.3,224.4 533.5,221.4 533.7,223.1"/>
<polyline class="cv" stroke="#00f00a" points="48.3,267.2 48.5,264.7 48.7,267.9 48.9,267.3 49.1,267.4 49.3,266.8 49.5,266.1 49.7,268.9 49.9,267.5 50.1,268.0 50.3,270.3 50.5,269.9 50.7,267.4 50.9,269.7 51.1,266.9 51.3,270.4 51.5,270.4 51.7,267.5 51.9,269.3 52.1,264.1 52.3,267.1 52.5,264.5 52.7,267.1 52.9,265.1 53.1,265.8 53.3,268.8 53.5,266.6 53.7,266.4 53.9,267.1 54.1,268.5 54.3,269.0 54.5,266.9 54.7,269.1 54.9,268.1 55.1,268.6 55.3,267.8 55.5,271.1 55.7,270.4 55.9,267.8 56.1,270.5 56.3,272.6 56.5,270.0 56.7,272.3 56.9,268.6 57.1,269.7 57.3,268.4 57.5,268.1 57.7,269.5 57.9,268.1 58.1,270.3 58.3,266.9 58.5,264.0 58.7,265.8 58.9,268.8 59.1,265.8 59.3,263.9 59.5,265.2 59.7,264.1 59.9,269.8 60.1,270.0 60.3,268.6 60.5,267.6 60.7,268.5 60.9,264.8 61.1,265.7 61.3,267.0 61.5,266.1 61.7,264.7 61.9,270.1 62.1,266.8 62.3,268.2 62.5,267.0 62.7,266.8 62.9,267.7 63.1,270.4 63.3,270.1 63.5,268.0 63.7,265.7 63.9,270.3 64.1,267.1 64.3,268.8 64.5,265.6 64.7,269.4 64.9,267.9 65.1,268.5 65.3,268.0 65.5,267.3 65.7,268.7 65.9,271.4 66.1,266.6 66.3,267.7 66.5,266.0 66.7,270.2 66.9,269.7 67.1,267.1 67.3,268.1 67.5,269.5 67.7,269.2 67.9,266.0 68.1,270.0 68.3,269.4 68.5,265.4 68.7,269.6 68.9,269.2 69.1,269.3 69.3,267.6 69.5,266.1 69.7,270.3 69.9,268.6 70.1,267.1 70.3,266.2 70.5,270.1 70.7,267.0 70.9,267.3 71.1,267.6 71.3,269.2 71.5,267.6 71.7,265.4 71.9,267.4 72.1,266.6 72.3,267.5 72.5,268.4 72.7,265.6 72.9,265.3 73.1,264.7 73.3,265.2 73.5,263.4 73.7,266.8 73.9,265.1 74.1,264.2 74.3,263.3 74.5,264.5 74.7,264.2 74.9,264.3 75.1,265.8 75.3,266.5 75.5,268.3 75.7,268.8 75.9,263.2 76.1,264.7 76.3,267.2 76.5,264.5 76.7,268.9 76.9,265.3 77.1,268.2 77.3,267.9 77.5,268.6 77.7,264.0 77.9,264.8 78.1,267.5 78.3,264.1 78.5,263.0 78.7,264.6 78.9,265.6 79.1,262.4 79.3,261.9 79.5,262.3 79.7,264.4 79.9,266.4 80.1,263.1 80.3,266.9 80.5,265.0 80.7,266.4 80.9,264.3 81.1,265.8 81.3,267.8 81.5,264.4 81.7,262.7 81.9,264.1 82.1,264.6 82.3,265.2 82.5,264.8 82.7,261.5 82.9,262.5 83.1,264.1 83.3,265.6 83.5,265.9 83.7,266.2 83.9,264.0 84.1,266.2 84.3,262.2 84.5,263.5 84.7,265.2 84.9,265.7 85.1,263.5 85.3,266.6 85.5,264.2 85.7,265.6 85.9,260.9 86.1,261.7 86.3,267.1 86.5,261.6 86.7,264.6 86.9,261.8 87.1,261.3 87.3,262.1 87.5,265.3 87.7,263.3 87.9,265.8 88.1,264.1 88.3,262.3 88.5,262.2 88.7,260.7 88.9,260.2 89.1,262.5 89.3,263.4 89.5,264.9 89.7,263.5 89.9,264.5 90.1,264.8 90.3,265.0 90.5,264.3 90.7,259.4 90.9,259.8 91.1,258.8 91.3,262.3 91.5,261.5 91.7,258.7 91.9,260.3 92.1,260.9 92.3,260.5 92.5,255.9 92.7,258.4 92.9,257.9 93.1,252.3 93.3,251.1 93.5,251.4 93.7,248.9 93.9,250.3 94.1,248.2 94.3,246.8 94.5,246.0 94.7,243.4 94.9,242.8 95.1,245.5 95.3,245.4 95.5,249.9 95.7,249.1 95.9,249.5 96.1,254.3 96.3,253.1 96.5,252.8 96.7,257.5 96.9,256.7 97.1,256.1 97.3,259.5 97.5,262.4 97.7,258.9 97.9,262.4 98.1,262.9 98.3,258.9 98.5,264.3 98.7,262.3 98.9,261.2 99.1,263.7 99.3,262.8 99.5,262.6 99.7,262.0 99.9,262.8 100.1,264.1 100.3,266.0 100.5,262.4 100.7,266.2 100.9,262.2 101.1,263.0 101.3,265.4 101.5,266.3 101.7,267.0 101.9,265.0 102.1,263.6 102.3,261.5 102.5,264.6 102.7,262.5 102.9,264.8 103.1,266.0 103.3,268.4 103.5,265.3 103.7,269.5 103.9,269.4 104.1,268.5 104.3,268.0 104.5,268.5 104.7,268.8 104.9,269.0 105.1,268.0 105.3,266.4 105.5,263.1 105.7,266.4 105.9,265.4 106.1,264.4 106.3,268.2 106.5,267.8 106.7,265.7 106.9,265.4 107.1,265.7 107.3,264.5 107.5,265.5 107.7,266.1 107.9,263.8 108.1,269.1 108.3,264.1 108.5,266.3 108.7,265.2 108.9,265.9 109.1,270.5 109.3,266.6 109.5,268.7 109.7,264.8 109.9,265.6 110.1,269.0 110.3,268.9 110.5,265.3 110.7,269.3 110.9,267.7 111.1,266.4 111.3,266.2 111.5,265.5 111.7,268.9 111.9,266.7 112.1,266.2 112.3,263.3 112.5,263.6 112.7,268.2 112.9,265.1 113.1,263.9 113.3,261.4 113.5,262.7 113.7,262.2 113.9,261.0 114.1,260.7 114.3,259.7 114.5,258.7 114.7,257.8 114.9,258.8 115.1,254.7 115.3,257.6 115.5,251.7 115.7,251.9 115.9,249.6 116.1,246.8 116.3,244.4 116.5,241.1 116.7,239.8 116.9,238.1 117.1,241.6 117.3,242.2 117.5,240.9 117.7,245.8 117.9,244.8 118.1,248.8 118.3,250.8 118.5,252.4 118.7,257.6 118.9,258.7 119.1,259.4 119.3,261.4 119.5,256.9 119.7,260.7 119.9,265.1 120.1,261.1 120.3,262.0 120.5,263.6 120.7,265.5 120.9,264.4 121.1,265.3 121.3,268.9 121.5,265.4 121.7,270.3 121.9,267.6 122.1,269.2 122.3,269.5 122.5,266.3 122.7,271.3 122.9,271.2 123.1,268.5 123.3,266.9 123.5,266.4 123.7,267.9 123.9,270.1 124.1,270.2 124.3,267.7 124.5,267.4 124.7,268.1 124.9,271.6 125.1,266.4 125.3,267.3 125.5,270.3 125.7,267.1 125.9,268.6 126.1,272.6 126.3,269.7 126.5,271.1 126.7,270.8 126.9,269.1 127.1,269.1 127.3,269.6 127.5,273.1 127.7,268.4 127.9,268.7 128.1,270.1 128.3,269.8 128.5,272.0 128.7,271.8 128.9,271.5 129.1,270.4 129.3,271.4 129.5,273.3 129.7,273.3 129.9,271.7 130.1,273.0 130.3,267.8 130.5,268.8 130.7,272.2 130.9,270.1 131.1,269.9 131.3,271.1 131.5,269.5 131.7,272.8 131.9,269.1 132.1,271.6 132.3,270.4 132.5,272.0 132.7,269.7 132.9,272.8 133.1,270.5 133.3,267.7 133.5,272.0 133.7,272.1 133.9,267.9 134.1,273.3 134.3,271.1 134.5,272.0 134.7,268.9 134.9,273.0 135.1,270.8 135.3,269.5 135.5,272.1 135.7,269.9 135.9,270.0 136.1,266.9 136.3,269.6 136.5,270.2 136.7,268.0 136.9,268.6 137.1,267.4 137.3,265.1 137.5,266.4 137.7,265.4 137.9,263.5 138.1,263.8 138.3,258.6 138.5,259.5 138.7,256.8 138.9,258.2 139.1,254.4 139.3,251.7 139.5,246.2 139.7,245.3 139.9,243.1 140.1,246.1 140.3,243.1 140.5,247.1 140.7,248.3 140.9,252.3 141.1,249.2 141.3,257.0 141.5,259.3 141.7,257.3 141.9,259.1 142.1,262.3 142.3,265.9 142.5,266.7 142.7,267.1 142.9,270.9 143.1,270.1 143.3,272.7 143.5,271.2 143.7,268.7 143.9,273.8 144.1,274.4 144.3,271.1 144.5,272.4 144.7,272.1 144.9,269.7 145.1,271.7 145.3,272.7 145.5,272.2 145.7,272.6 145.9,273.2 146.1,273.9 146.3,274.7 146.5,270.6 146.7,275.5 146.9,273.0 147.1,274.5 147.3,272.1 147.5,270.7 147.7,274.1 147.9,272.4 148.1,273.7 148.3,271.1 148.5,270.7 148.7,271.2 148.9,274.3 149.1,275.1 149.3,275.5 149.5,271.6 149.7,273.3 149.9,269.6 150.1,272.4 150.3,270.9 150.5,273.7 150.7,269.5 150.9,273.0 151.1,268.0 151.3,272.5 151.5,269.7 151.7,267.5 151.9,267.3 152.1,269.2 152.3,267.4 152.5,265.6 152.7,265.4 152.9,267.9 153.1,267.3 153.3,263.2 153.5,267.2 153.7,263.4 153.9,264.7 154.1,263.7 154.3,266.9 154.5,269.0 154.7,269.3 154.9,267.1 155.1,265.6 155.3,268.5 155.5,268.0 155.7,269.1 155.9,268.8 156.1,273.4 156.3,270.1 156.5,268.1 156.7,271.3 156.9,272.7 157.1,273.6 157.3,273.3 157.5,273.4 157.7,269.9 157.9,271.4 158.1,272.3 158.3,270.6 158.5,272.6 158.7,271.4 158.9,270.9 159.1,275.3 159.3,271.7 159.5,272.8 159.7,273.1 159.9,274.6 160.1,271.0 160.3,270.6 160.5,274.7 160.7,271.4 160.9,271.8 161.1,271.2 161.3,272.8 161.5,271.8 161.7,273.3 161.9,272.8 162.1,274.6 162.3,273.5 162.5,274.8 162.7,272.5 162.9,272.1 163.1,276.1 163.3,271.8 163.5,274.7 163.7,274.3 163.9,274.6 164.1,271.7 164.3,271.2 164.5,275.6 164.7,271.4 164.9,272.2 165.1,276.9 165.3,276.7 165.5,277.1 165.7,274.9 165.9,274.2 166.1,274.0 166.3,272.6 166.5,276.8 166.7,276.4 166.9,277.9 167.1,273.7 167.3,274.9 167.5,275.3 167.7,274.1 167.9,275.0 168.1,272.6 168.3,273.5 168.5,272.7 168.7,275.1 168.9,272.8 169.1,273.3 169.3,273.4 169.5,271.4 169.7,276.0 169.9,274.7 170.1,272.0 170.3,275.9 170.5,273.8 170.7,275.7 170.9,273.0 171.1,271.0 171.3,271.2 171.5,275.0 171.7,274.0 171.9,272.1 172.1,274.2 172.3,273.8 172.5,276.3 172.7,271.7 172.9,272.2 173.1,273.9 173.3,271.9 173.5,277.1 173.7,272.6 173.9,274.8 174.1,273.6 174.3,276.2 174.5,271.7 174.7,273.2 174.9,273.4 175.1,271.3 175.3,274.8 175.5,274.5 175.7,275.9 175.9,273.9 176.1,273.4 176.3,273.2 176.5,272.7 176.7,277.1 176.9,276.8 177.1,274.1 177.3,274.5 177.5,272.3 177.7,275.4 177.9,276.6 178.1,273.7 178.3,274.6 178.5,275.9 178.7,274.5 178.9,275.2 179.1,273.3 179.3,276.9 179.5,272.5 179.7,275.3 179.9,274.4 180.1,273.2 180.3,277.9 180.5,274.3 180.7,276.1 180.9,277.0 181.1,275.1 181.3,275.9 181.5,276.0 181.7,274.8 181.9,273.4 182.1,272.5 182.3,276.1 182.5,273.3 182.7,273.9 182.9,272.9 183.1,270.8 183.3,272.6 183.5,274.6 183.7,275.1 183.9,275.5 184.1,270.7 184.3,271.7 184.5,270.5 184.7,276.5 184.9,274.4 185.1,275.1 185.3,273.3 185.5,272.2 185.7,273.1 185.9,272.7 186.1,274.6 186.3,276.0 186.5,276.2 186.7,272.3 186.9,271.2 187.1,274.3 187.3,272.0 187.5,270.1 187.7,272.1 187.9,269.3 188.1,268.6 188.3,268.2 188.5,269.1 188.7,270.7 188.9,268.3 189.1,268.3 189.3,271.3 189.5,274.4 189.7,269.1 189.9,270.1 190.1,274.1 190.3,272.5 190.5,274.0 190.7,274.2 190.9,270.7 191.1,273.6 191.3,270.8 191.5,275.1 191.7,275.4 191.9,271.5 192.1,276.1 192.3,271.8 192.5,275.2 192.7,274.7 192.9,275.3 193.1,275.9 193.3,276.7 193.5,274.6 193.7,271.9 193.9,276.2 194.1,271.0 194.3,275.0 194.5,270.7 194.7,275.6 194.9,274.4 195.1,273.0 195.3,276.4 195.5,272.2 195.7,272.8 195.9,274.2 196.1,274.8 196.3,274.1 196.5,278.5 196.7,275.7 196.9,278.7 197.1,274.5 197.3,275.3 197.5,277.2 197.7,278.3 197.9,274.9 198.1,274.6 198.3,277.7 198.5,274.7 198.7,274.4 198.9,277.7 199.1,274.6 199.3,272.8 199.5,277.7 199.7,275.1 199.9,273.7 200.1,277.3 200.3,271.6 200.5,277.1 200.7,272.1 200.9,271.9 201.1,277.9 201.3,274.7 201.5,273.2 201.7,277.8 201.9,274.5 202.1,277.9 202.3,275.4 202.5,274.6 202.7,275.7 202.9,277.4 203.1,277.1 203.3,275.6 203.5,273.4 203.7,276.7 203.9,277.0 204.1,274.9 204.3,275.5 204.5,276.8 204.7,276.3 204.9,276.6 205.1,275.4 205.3,276.3 205.5,273.6 205.7,272.9 205.9,273.6 206.1,274.6 206.3,274.0 206.5,276.1 206.7,273.7 206.9,273.9 207.1,272.3 207.3,271.5 207.5,276.0 207.7,272.1 207.9,273.7 208.1,274.7 208.3,275.5 208.5,273.2 208.7,272.4 208.9,276.1 209.1,274.6 209.3,271.7 209.5,274.5 209.7,273.4 209.9,272.6 210.1,271.4 210.3,271.8 210.5,271.6 210.7,276.0 210.9,276.4 211.1,274.5 211.3,272.7 211.5,273.2 211.7,278.0 211.9,277.2 212.1,273.5 212.3,271.7 212.5,273.3 212.7,272.1 212.9,269.8 213.1,273.8 213.3,273.1 213.5,272.9 213.7,274.5 213.9,274.1 214.1,270.4 214.3,269.7 214.5,271.8 214.7,274.8 214.9,273.4 215.1,270.1 215.3,272.7 215.5,271.1 215.7,268.4 215.9,271.0 216.1,266.9 216.3,266.3 216.5,264.6 216.7,266.1 216.9,265.2 217.1,265.7 217.3,261.0 217.5,262.7 217.7,259.8 217.9,261.4 218.1,260.4 218.3,263.4 218.5,265.3 218.7,264.9 218.9,262.6 219.1,261.6 219.3,259.9 219.5,263.9 219.7,262.8 219.9,263.3 220.1,265.1 220.3,262.3 220.5,265.6 220.7,265.2 220.9,265.7 221.1,269.7 221.3,269.8 221.5,266.9 221.7,271.8 221.9,266.7 222.1,269.0 222.3,269.1 222.5,270.4 222.7,269.5 222.9,270.0 223.1,270.3 223.3,270.9 223.5,269.8 223.7,268.8 223.9,271.4 224.1,271.3 224.3,271.5 224.5,267.7 224.7,267.9 224.9,271.3 225.1,267.8 225.3,266.8 225.5,269.5 225.7,268.4 225.9,270.5 226.1,267.0 226.3,267.5 226.5,267.7 226.7,268.7 226.9,266.6 227.1,270.0 227.3,267.2 227.5,268.7 227.7,272.6 227.9,268.4 228.1,271.6 228.3,271.0 228.5,274.1 228.7,271.5 228.9,270.7 229.1,275.5 229.3,274.7 229.5,270.9 229.7,273.3 229.9,272.0 230.1,275.9 230.3,271.0 230.5,273.8 230.7,275.6 230.9,275.2 231.1,275.2 231.3,273.5 231.5,271.7 231.7,270.8 231.9,271.8 232.1,276.0 232.3,275.6 232.5,272.3 232.7,277.7 232.9,274.9 233.1,272.9 233.3,274.7 233.5,274.5 233.7,273.2 233.9,274.9 234.1,274.3 234.3,273.3 234.5,275.7 234.7,274.3 234.9,273.1 235.1,272.2 235.3,274.3 235.5,272.0 235.7,276.6 235.9,274.7 236.1,276.8 236.3,272.6 236.5,273.7 236.7,274.1 236.9,276.6 237.1,271.7 237.3,273.6 237.5,271.4 237.7,276.3 237.9,275.7 238.1,273.1 238.3,274.4 238.5,273.8 238.7,273.4 238.9,275.0 239.1,275.9 239.3,270.4 239.5,273.8 239.7,276.1 239.9,273.1 240.1,272.8 240.3,272.6 240.5,275.4 240.7,273.5 240.9,274.4 241.1,274.9 241.3,276.6 241.5,278.4 241.7,278.7 241.9,274.3 242.1,274.4 242.3,277.4 242.5,277.7 242.7,274.8 242.9,278.8 243.1,277.1 243.3,273.1 243.5,275.6 243.7,272.9 243.9,275.6 244.1,275.5 244.3,272.7 244.5,271.6 244.7,272.5 244.9,273.8 245.1,271.8 245.3,272.5 245.5,271.9 245.7,273.4 245.9,274.1 246.1,273.5 246.3,275.4 246.5,278.0 246.7,273.6 246.9,278.6 247.1,274.5 247.3,275.7 247.5,273.8 247.7,276.3 247.9,277.5 248.1,276.6 248.3,276.1 248.5,275.5 248.7,273.4 248.9,277.4 249.1,278.5 249.3,277.2 249.5,277.0 249.7,273.4 249.9,274.2 250.1,274.8 250.3,273.3 250.5,277.7 250.7,277.1 250.9,273.5 251.1,272.0 251.3,273.2 251.5,271.9 251.7,274.6 251.9,272.0 252.1,270.9 252.3,274.5 252.5,273.1 252.7,275.0 252.9,274.8 253.1,275.3 253.3,273.2 253.5,275.0 253.7,274.6 253.9,275.6 254.1,272.5 254.3,277.7 254.5,274.0 254.7,272.6 254.9,273.3 255.1,275.7 255.3,277.8 255.5,277.8 255.7,274.9 255.9,278.0 256.1,273.2 256.3,273.5 256.5,273.6 256.7,276.7 256.9,276.4 257.1,273.7 257.3,276.5 257.5,276.8 257.7,273.1 257.9,275.4 258.1,274.0 258.3,272.4 258.5,275.3 258.7,275.8 258.9,277.7 259.1,275.2 259.3,277.2 259.5,274.2 259.7,276.3 259.9,278.6 260.1,272.7 260.3,275.1 260.5,274.5 260.7,276.8 260.9,273.0 261.1,275.9 261.3,273.7 261.5,275.2 261.7,275.8 261.9,274.8 262.1,272.8 262.3,272.4 262.5,276.9 262.7,274.8 262.9,277.1 263.1,276.0 263.3,273.6 263.5,273.2 263.7,274.7 263.9,277.1 264.1,274.7 264.3,274.9 264.5,274.7 264.7,272.0 264.9,273.1 265.1,272.4 265.3,275.7 265.5,269.6 265.7,274.8 265.9,270.3 266.1,272.8 266.3,272.1 266.5,271.4 266.7,273.3 266.9,272.3 267.1,272.7 267.3,269.2 267.5,269.0 267.7,271.5 267.9,266.9 268.1,271.3 268.3,270.6 268.5,267.8 268.7,268.7 268.9,265.7 269.1,266.9 269.3,262.4 269.5,263.1 269.7,263.9 269.9,262.6 270.1,264.5 270.3,263.6 270.5,257.9 270.7,258.8 270.9,257.9 271.1,259.5 271.3,264.1 271.5,262.3 271.7,260.3 271.9,264.6 272.1,268.0 272.3,268.9 272.5,270.2 272.7,270.0 272.9,268.0 273.1,271.9 273.3,269.0 273.5,273.1 273.7,268.3 273.9,268.9 274.1,273.6 274.3,270.3 274.5,272.4 274.7,272.5 274.9,272.0 275.1,273.6 275.3,274.9 275.5,277.3 275.7,276.7 275.9,278.2 276.1,277.9 276.3,273.3 276.5,274.7 276.7,275.1 276.9,273.9 277.1,275.7 277.3,277.0 277.5,272.0 277.7,274.9 277.9,276.3 278.1,271.7 278.3,275.6 278.5,271.8 278.7,276.3 278.9,272.5 279.1,272.0 279.3,277.2 279.5,274.2 279.7,274.4 279.9,275.2 280.1,277.1 280.3,273.2 280.5,273.7 280.7,273.4 280.9,275.8 281.1,273.1 281.3,276.9 281.5,274.8 281.7,275.2 281.9,272.5 282.1,276.0 282.3,272.3 282.5,273.0 282.7,277.7 282.9,274.0 283.1,275.8 283.3,275.7 283.5,272.8 283.7,275.2 283.9,274.0 284.1,276.0 284.3,273.8 284.5,275.0 284.7,275.2 284.9,272.7 285.1,273.4 285.3,273.1 285.5,275.8 285.7,276.4 285.9,278.4 286.1,275.1 286.3,274.1 286.5,278.4 286.7,275.9 286.9,277.8 287.1,274.4 287.3,273.5 287.5,275.7 287.7,278.8 287.9,274.2 288.1,276.2 288.3,278.8 288.5,275.6 288.7,279.1 288.9,275.2 289.1,276.7 289.3,275.7 289.5,280.3 289.7,277.9 289.9,276.0 290.1,280.0 290.3,277.5 290.5,275.7 290.7,277.7 290.9,277.2 291.1,278.1 291.3,272.9 291.5,277.4 291.7,276.1 291.9,272.6 292.1,273.4 292.3,271.9 292.5,276.5 292.7,272.2 292.9,272.9 293.1,275.9 293.3,276.3 293.5,273.6 293.7,272.8 293.9,272.7 294.1,273.1 294.3,277.4 294.5,273.7 294.7,275.3 294.9,277.5 295.1,278.7 295.3,278.1 295.5,277.8 295.7,277.7 295.9,274.7 296.1,276.2 296.3,276.2 296.5,274.4 296.7,274.7 296.9,276.5 297.1,272.8 297.3,276.0 297.5,276.6 297.7,274.8 297.9,276.2 298.1,275.6 298.3,275.4 298.5,272.0 298.7,275.8 298.9,272.8 299.1,275.9 299.3,272.3 299.5,276.9 299.7,273.3 299.9,277.1 300.1,277.5 300.3,273.0 300.5,272.5 300.7,276.7 300.9,276.8 301.1,272.2 301.3,275.2 301.5,273.7 301.7,271.9 301.9,275.9 302.1,274.6 302.3,271.3 302.5,274.3 302.7,274.7 302.9,278.2 303.1,278.5 303.3,274.2 303.5,276.7 303.7,276.2 303.9,275.5 304.1,276.9 304.3,276.0 304.5,274.5 304.7,278.5 304.9,278.6 305.1,278.7 305.3,276.3 305.5,273.6 305.7,278.3 305.9,274.8 306.1,273.5 306.3,274.1 306.5,276.1 306.7,274.5 306.9,275.9 307.1,273.0 307.3,272.6 307.5,277.9 307.7,273.1 307.9,273.8 308.1,272.0 308.3,276.2 308.5,276.2 308.7,274.8 308.9,272.1 309.1,275.6 309.3,271.3 309.5,273.3 309.7,271.7 309.9,275.8 310.1,275.7 310.3,274.3 310.5,271.4 310.7,271.2 310.9,271.8 311.1,271.5 311.3,269.6 311.5,269.9 311.7,272.6 311.9,272.8 312.1,273.1 312.3,272.1 312.5,271.0 312.7,268.4 312.9,268.4 313.1,268.2 313.3,271.2 313.5,268.8 313.7,270.2 313.9,269.4 314.1,270.3 314.3,271.5 314.5,273.1 314.7,275.3 314.9,270.6 315.1,272.6 315.3,276.2 315.5,275.7 315.7,275.9 315.9,273.6 316.1,272.5 316.3,272.1 316.5,274.7 316.7,275.2 316.9,273.7 317.1,273.3 317.3,274.8 317.5,271.2 317.7,273.5 317.9,273.1 318.1,274.6 318.3,272.3 318.5,272.2 318.7,272.4 318.9,273.8 319.1,272.6 319.3,274.3 319.5,275.8 319.7,274.8 319.9,276.3 320.1,275.6 320.3,276.0 320.5,274.3 320.7,276.6 320.9,274.4 321.1,276.1 321.3,276.2 321.5,277.2 321.7,273.2 321.9,276.0 322.1,272.2 322.3,274.0 322.5,274.7 322.7,271.6 322.9,272.1 323.1,273.0 323.3,273.2 323.5,274.8 323.7,272.7 323.9,273.9 324.1,276.9 324.3,274.4 324.5,277.1 324.7,275.9 324.9,272.8 325.1,277.4 325.3,273.5 325.5,274.4 325.7,277.9 325.9,274.3 326.1,277.6 326.3,276.0 326.5,273.4 326.7,272.9 326.9,277.6 327.1,275.0 327.3,276.1 327.5,273.5 327.7,274.8 327.9,272.7 328.1,274.9 328.3,272.7 328.5,272.6 328.7,277.4 328.9,277.5 329.1,277.0 329.3,276.4 329.5,274.2 329.7,277.2 329.9,274.5 330.1,273.8 330.3,274.9 330.5,276.4 330.7,276.7 330.9,277.7 331.1,275.8 331.3,274.2 331.5,273.4 331.7,274.1 331.9,277.9 332.1,273.3 332.3,276.2 332.5,275.7 332.7,274.1 332.9,276.7 333.1,275.6 333.3,272.6 333.5,276.0 333.7,273.2 333.9,273.9 334.1,275.9 334.3,277.0 334.5,275.3 334.7,276.9 334.9,275.6 335.1,277.3 335.3,274.0 335.5,276.9 335.7,272.8 335.9,272.5 336.1,272.3 336.3,272.0 336.5,275.2 336.7,272.0 336.9,276.7 337.1,275.2 337.3,273.3 337.5,276.0 337.7,274.8 337.9,273.3 338.1,270.2 338.3,274.2 338.5,271.7 338.7,272.6 338.9,268.2 339.1,267.3 339.3,268.8 339.5,272.0 339.7,272.4 339.9,272.9 340.1,270.0 340.3,271.8 340.5,268.7 340.7,270.9 340.9,267.9 341.1,270.5 341.3,267.9 341.5,265.5 341.7,267.5 341.9,265.6 342.1,264.5 342.3,264.3 342.5,266.2 342.7,263.3 342.9,265.3 343.1,261.9 343.3,263.2 343.5,266.5 343.7,265.8 343.9,267.3 344.1,268.1 344.3,266.6 344.5,264.8 344.7,266.8 344.9,267.5 345.1,267.9 345.3,271.0 345.5,269.2 345.7,272.9 345.9,271.0 346.1,273.1 346.3,274.5 346.5,273.7 346.7,274.7 346.9,274.3 347.1,273.0 347.3,272.0 347.5,272.5 347.7,272.3 347.9,273.7 348.1,273.1 348.3,272.7 348.5,271.2 348.7,272.9 348.9,272.3 349.1,274.4 349.3,272.9 349.5,274.2 349.7,275.1 349.9,272.6 350.1,274.3 350.3,275.2 350.5,275.2 350.7,276.1 350.9,277.2 351.1,276.8 351.3,274.2 351.5,274.6 351.7,276.3 351.9,275.8 352.1,273.8 352.3,275.0 352.5,278.3 352.7,279.3 352.9,276.5 353.1,274.6 353.3,278.7 353.5,276.3 353.7,275.3 353.9,276.0 354.1,275.6 354.3,279.0 354.5,275.7 354.7,278.5 354.9,275.1 355.1,274.8 355.3,275.9 355.5,276.6 355.7,276.0 355.9,277.3 356.1,275.5 356.3,276.4 356.5,273.4 356.7,276.3 356.9,276.6 357.1,277.0 357.3,273.2 357.5,275.2 357.7,276.3 357.9,273.4 358.1,277.2 358.3,277.3 358.5,276.3 358.7,275.3 358.9,277.2 359.1,277.9 359.3,276.2 359.5,278.7 359.7,275.4 359.9,275.9 360.1,277.8 360.3,275.8 360.5,276.5 360.7,277.7 360.9,277.1 361.1,275.9 361.3,274.5 361.5,275.3 361.7,273.9 361.9,277.0 362.1,276.7 362.3,274.1 362.5,274.8 362.7,274.2 362.9,272.7 363.1,271.5 363.3,274.4 363.5,271.0 363.7,274.0 363.9,270.5 364.1,272.7 364.3,270.9 364.5,272.2 364.7,275.5 364.9,275.3 365.1,273.4 365.3,273.8 365.5,274.5 365.7,274.1 365.9,271.9 366.1,274.1 366.3,276.4 366.5,275.9 366.7,273.1 366.9,276.6 367.1,275.7 367.3,274.5 367.5,272.8 367.7,275.9 367.9,274.6 368.1,276.8 368.3,273.5 368.5,273.0 368.7,274.8 368.9,275.4 369.1,273.9 369.3,275.6 369.5,274.9 369.7,278.9 369.9,274.7 370.1,278.0 370.3,274.6 370.5,276.9 370.7,276.7 370.9,276.3 371.1,278.2 371.3,275.8 371.5,278.1 371.7,278.8 371.9,276.3 372.1,278.0 372.3,280.0 372.5,278.2 372.7,278.0 372.9,276.8 373.1,279.1 373.3,279.1 373.5,276.3 373.7,277.1 373.9,277.1 374.1,277.7 374.3,276.2 374.5,276.3 374.7,275.2 374.9,277.4 375.1,277.4 375.3,274.6 375.5,278.0 375.7,274.8 375.9,277.7 376.1,274.6 376.3,276.6 376.5,276.1 376.7,274.1 376.9,277.0 377.1,277.4 377.3,278.1 377.5,276.4 377.7,276.7 377.9,277.4 378.1,278.2 378.3,276.3 378.5,277.6 378.7,277.4 378.9,275.3 379.1,277.1 379.3,277.9 379.5,275.7 379.7,278.1 379.9,276.5 380.1,277.8 380.3,276.7 380.5,274.6 380.7,274.2 380.9,274.4 381.1,274.3 381.3,272.9 381.5,273.1 381.7,274.4 381.9,273.4 382.1,277.3 382.3,277.7 382.5,274.6 382.7,276.5 382.9,275.3 383.1,278.2 383.3,276.0 383.5,278.2 383.7,277.2 383.9,274.4 384.1,273.8 384.3,275.5 384.5,276.3 384.7,276.1 384.9,277.4 385.1,273.0 385.3,273.7 385.5,274.6 385.7,276.9 385.9,273.2 386.1,275.6 386.3,273.3 386.5,276.2 386.7,276.3 386.9,274.4 387.1,277.2 387.3,277.1 387.5,276.0 387.7,277.7 387.9,273.9 388.1,275.4 388.3,276.1 388.5,275.0 388.7,273.5 388.9,273.7 389.1,276.2 389.3,273.9 389.5,275.9 389.7,276.3 389.9,273.9 390.1,273.8 390.3,275.1 390.5,276.2 390.7,274.3 390.9,276.4 391.1,277.2 391.3,275.9 391.5,277.1 391.7,273.5 391.9,274.7 392.1,276.4 392.3,275.9 392.5,273.2 392.7,274.0 392.9,274.3 393.1,275.4 393.3,276.2 393.5,274.8 393.7,272.9 393.9,277.0 394.1,277.3 394.3,274.6 394.5,276.4 394.7,274.9 394.9,275.0 395.1,276.7 395.3,272.4 395.5,274.5 395.7,273.6 395.9,273.8 396.1,273.3 396.3,272.4 396.5,273.8 396.7,273.4 396.9,276.2 397.1,276.5 397.3,273.8 397.5,274.8 397.7,274.1 397.9,273.6 398.1,273.5 398.3,276.4 398.5,273.6 398.7,276.4 398.9,275.7 399.1,273.4 399.3,274.5 399.5,275.2 399.7,275.6 399.9,276.2 400.1,275.5 400.3,276.4 400.5,275.7 400.7,277.5 400.9,276.9 401.1,276.0 401.3,275.6 401.5,273.6 401.7,274.4 401.9,276.4 402.1,277.2 402.3,274.0 402.5,277.0 402.7,274.1 402.9,274.3 403.1,276.7 403.3,276.8 403.5,275.4 403.7,277.4 403.9,277.7 404.1,274.6 404.3,277.7 404.5,275.8 404.7,275.9 404.9,276.3 405.1,276.7 405.3,274.5 405.5,277.5 405.7,274.9 405.9,278.8 406.1,275.3 406.3,277.2 406.5,276.1 406.7,277.5 406.9,274.9 407.1,274.0 407.3,275.4 407.5,277.5 407.7,277.4 407.9,274.7 408.1,276.7 408.3,274.2 408.5,277.6 408.7,274.3 408.9,275.1 409.1,277.2 409.3,276.0 409.5,275.1 409.7,277.9 409.9,276.0 410.1,274.6 410.3,275.9 410.5,277.5 410.7,276.8 410.9,274.7 411.1,275.1 411.3,275.7 411.5,277.3 411.7,278.3 411.9,277.7 412.1,275.5 412.3,276.1 412.5,278.5 412.7,275.9 412.9,278.1 413.1,276.3 413.3,278.2 413.5,273.8 413.7,274.9 413.9,276.8 414.1,274.1 414.3,275.5 414.5,277.2 414.7,275.7 414.9,272.7 415.1,272.6 415.3,276.4 415.5,276.0 415.7,272.9 415.9,275.4 416.1,274.5 416.3,272.8 416.5,271.6 416.7,271.1 416.9,271.6 417.1,273.1 417.3,271.2 417.5,273.8 417.7,273.3 417.9,273.3 418.1,274.4 418.3,271.1 418.5,275.8 418.7,274.2 418.9,274.1 419.1,273.4 419.3,275.9 419.5,277.0 419.7,274.1 419.9,275.8 420.1,277.7 420.3,274.9 420.5,277.5 420.7,275.5 420.9,277.1 421.1,274.8 421.3,275.7 421.5,276.3 421.7,276.2 421.9,278.8 422.1,275.3 422.3,275.8 422.5,277.1 422.7,276.4 422.9,278.9 423.1,277.1 423.3,279.2 423.5,275.7 423.7,276.5 423.9,276.7 424.1,277.0 424.3,276.0 424.5,276.5 424.7,274.9 424.9,275.0 425.1,273.9 425.3,276.3 425.5,276.1 425.7,278.3 425.9,277.7 426.1,277.6 426.3,276.3 426.5,276.6 426.7,278.6 426.9,276.3 427.1,275.9 427.3,276.7 427.5,277.6 427.7,276.1 427.9,275.3 428.1,278.2 428.3,276.9 428.5,274.9 428.7,275.7 428.9,274.9 429.1,275.8 429.3,276.6 429.5,275.3 429.7,279.4 429.9,277.4 430.1,279.2 430.3,278.6 430.5,275.7 430.7,275.5 430.9,277.7 431.1,274.9 431.3,278.2 431.5,275.9 431.7,276.6 431.9,274.7 432.1,275.2 432.3,275.9 432.5,273.9 432.7,273.6 432.9,274.5 433.1,273.5 433.3,276.8 433.5,274.6 433.7,275.1 433.9,274.4 434.1,275.9 434.3,275.2 434.5,276.4 434.7,277.6 434.9,275.1 435.1,275.5 435.3,276.1 435.5,274.6 435.7,277.8 435.9,273.9 436.1,274.7 436.3,275.9 436.5,277.2 436.7,274.7 436.9,279.1 437.1,279.6 437.3,278.5 437.5,277.3 437.7,277.1 437.9,277.7 438.1,279.7 438.3,278.4 438.5,280.1 438.7,277.8 438.9,275.7 439.1,274.7 439.3,277.5 439.5,276.1 439.7,277.3 439.9,278.2 440.1,274.7 440.3,274.8 440.5,275.9 440.7,276.1 440.9,276.3 441.1,276.7 441.3,276.2 441.5,275.0 441.7,276.1 441.9,275.1 442.1,275.0 442.3,276.7 442.5,274.5 442.7,274.9 442.9,276.7 443.1,275.1 443.3,276.4 443.5,275.4 443.7,276.1 443.9,277.2 444.1,274.5 444.3,276.9 444.5,276.3 444.7,276.0 444.9,276.7 445.1,274.9 445.3,275.5 445.5,276.3 445.7,273.7 445.9,274.0 446.1,274.3 446.3,272.7 446.5,272.2 446.7,271.6 446.9,275.5 447.1,275.5 447.3,273.7 447.5,276.4 447.7,277.0 447.9,277.0 448.1,274.1 448.3,276.2 448.5,274.6 448.7,277.4 448.9,277.2 449.1,277.7 449.3,276.9 449.5,274.7 449.7,277.3 449.9,274.3 450.1,274.1 450.3,274.3 450.5,274.3 450.7,276.0 450.9,277.2 451.1,275.2 451.3,276.4 451.5,278.2 451.7,276.3 451.9,274.8 452.1,276.8 452.3,278.2 452.5,276.6 452.7,276.8 452.9,277.1 453.1,277.3 453.3,274.5 453.5,276.1 453.7,275.0 453.9,277.1 454.1,276.5 454.3,276.9 454.5,277.6 454.7,275.2 454.9,274.5 455.1,273.4 455.3,273.8 455.5,274.9 455.7,274.5 455.9,273.9 456.1,276.4 456.3,275.6 456.5,277.5 456.7,274.7 456.9,275.0 457.1,276.3 457.3,278.8 457.5,278.3 457.7,276.8 457.9,279.2 458.1,275.6 458.3,278.0 458.5,278.5 458.7,278.6 458.9,275.5 459.1,275.6 459.3,278.2 459.5,278.8 459.7,277.1 459.9,275.5 460.1,278.6 460.3,279.3 460.5,276.0 460.7,275.4 460.9,277.7 461.1,279.0 461.3,277.2 461.5,276.6 461.7,276.7 461.9,276.7 462.1,276.5 462.3,278.3 462.5,278.0 462.7,274.9 462.9,274.0 463.1,276.2 463.3,275.2 463.5,273.0 463.7,273.0 463.9,272.9 464.1,273.3 464.3,273.4 464.5,272.2 464.7,273.0 464.9,275.0 465.1,272.6 465.3,272.9 465.5,274.9 465.7,274.0 465.9,275.4 466.1,274.5 466.3,277.3 466.5,276.6 466.7,276.7 466.9,273.6 467.1,274.8 467.3,275.4 467.5,276.7 467.7,276.9 467.9,273.0 468.1,275.7 468.3,276.9 468.5,275.7 468.7,276.0 468.9,273.7 469.1,275.1 469.3,273.7 469.5,275.3 469.7,278.2 469.9,277.6 470.1,279.1 470.3,275.0 470.5,277.3 470.7,278.2 470.9,275.0 471.1,276.4 471.3,274.1 471.5,275.9 471.7,277.0 471.9,275.3 472.1,276.5 472.3,275.8 472.5,275.0 472.7,277.4 472.9,275.7 473.1,277.1 473.3,277.8 473.5,276.7 473.7,276.6 473.9,276.5 474.1,277.3 474.3,274.0 474.5,277.5 474.7,273.6 474.9,274.3 475.1,274.0 475.3,274.0 475.5,277.1 475.7,276.6 475.9,277.9 476.1,277.4 476.3,276.2 476.5,274.7 476.7,277.2 476.9,276.9 477.1,275.2 477.3,276.0 477.5,276.2 477.7,274.6 477.9,277.6 478.1,277.1 478.3,275.1 478.5,275.8 478.7,276.1 478.9,277.5 479.1,275.7 479.3,278.1 479.5,274.5 479.7,274.5 479.9,278.0 480.1,276.5 480.3,276.9 480.5,278.9 480.7,275.9 480.9,278.2 481.1,276.4 481.3,278.7 481.5,279.0 481.7,275.6 481.9,276.1 482.1,277.1 482.3,278.0 482.5,278.6 482.7,275.9 482.9,275.0 483.1,278.0 483.3,276.6 483.5,276.1 483.7,275.0 483.9,277.4 484.1,274.5 484.3,276.6 484.5,278.0 484.7,274.2 484.9,276.7 485.1,278.4 485.3,276.2 485.5,277.2 485.7,279.4 485.9,278.1 486.1,275.1 486.3,277.3 486.5,277.6 486.7,278.5 486.9,274.8 487.1,276.5 487.3,277.3 487.5,276.2 487.7,279.6 487.9,275.7 488.1,279.2 488.3,276.5 488.5,278.6 488.7,280.2 488.9,279.2 489.1,279.8 489.3,278.3 489.5,278.0 489.7,277.4 489.9,277.9 490.1,275.1 490.3,275.8 490.5,276.2 490.7,274.0 490.9,275.0 491.1,277.5 491.3,275.8 491.5,276.1 491.7,277.8 491.9,276.6 492.1,278.8 492.3,275.7 492.5,277.7 492.7,277.5 492.9,278.0 493.1,275.3 493.3,278.4 493.5,275.2 493.7,273.6 493.9,275.3 494.1,274.4 494.3,276.2 494.5,273.7 494.7,274.4 494.9,277.5 495.1,275.2 495.3,275.3 495.5,275.1 495.7,275.7 495.9,273.2 496.1,275.4 496.3,276.0 496.5,275.0 496.7,273.4 496.9,276.2 497.1,276.7 497.3,277.7 497.5,274.7 497.7,277.0 497.9,274.6 498.1,275.0 498.3,278.1 498.5,277.7 498.7,278.2 498.9,275.7 499.1,276.1 499.3,277.9 499.5,277.8 499.7,274.2 499.9,274.5 500.1,275.4 500.3,276.4 500.5,274.1 500.7,277.1 500.9,276.5 501.1,275.4 501.3,276.7 501.5,277.5 501.7,274.3 501.9,276.5 502.1,276.8 502.3,277.3 502.5,274.4 502.7,276.6 502.9,276.0 503.1,276.0 503.3,276.0 503.5,273.4 503.7,274.7 503.9,273.2 504.1,277.1 504.3,277.4 504.5,276.6 504.7,276.3 504.9,274.9 505.1,275.5 505.3,276.1 505.5,273.4 505.7,277.3 505.9,276.8 506.1,273.2 506.3,274.8 506.5,274.7 506.7,272.4 506.9,272.1 507.1,274.9 507.3,272.5 507.5,272.6 507.7,272.9 507.9,272.5 508.1,270.8 508.3,271.3 508.5,270.8 508.7,270.6 508.9,273.6 509.1,272.3 509.3,273.8 509.5,274.1 509.7,274.1 509.9,275.3 510.1,274.5 510.3,274.6 510.5,274.6 510.7,273.2 510.9,276.2 511.1,275.4 511.3,272.2 511.5,275.2 511.7,272.4 511.9,273.4 512.1,273.9 512.3,273.8 512.5,274.1 512.7,275.9 512.9,276.6 513.1,276.2 513.3,273.9 513.5,275.6 513.7,273.7 513.9,277.1 514.1,274.2 514.3,275.0 514.5,272.9 514.7,273.7 514.9,275.8 515.1,274.4 515.3,277.7 515.5,274.7 515.7,277.0 515.9,276.0 516.1,276.0 516.3,274.6 516.5,277.5 516.7,277.1 516.9,275.4 517.1,277.5 517.3,276.7 517.5,275.8 517.7,277.4 517.9,276.0 518.1,277.7 518.3,274.8 518.5,274.7 518.7,277.9 518.9,277.2 519.1,276.5 519.3,275.2 519.5,274.8 519.7,278.3 519.9,274.6 520.1,274.7 520.3,277.0 520.5,276.2 520.7,273.9 520.9,274.9 521.1,278.3 521.3,276.3 521.5,278.3 521.7,275.3 521.9,278.5 522.1,276.2 522.3,278.4 522.5,278.3 522.7,277.1 522.9,276.8 523.1,278.3 523.3,276.6 523.5,276.2 523.7,278.4 523.9,277.2 524.1,276.3 524.3,275.7 524.5,277.1 524.7,274.7 524.9,274.8 525.1,275.9 525.3,276.0 525.5,274.1 525.7,275.4 525.9,273.4 526.1,275.7 526.3,275.9 526.5,274.4 526.7,275.1 526.9,274.8 527.1,271.6 527.3,273.5 527.5,273.2 527.7,275.9 527.9,276.2 528.1,273.2 528.3,274.5 528.5,275.3 528.7,277.0 528.9,278.6 529.1,276.0 529.3,276.2 529.5,279.3 529.7,275.5 529.9,274.8 530.1,277.9 530.3,277.5 530.5,275.4 530.7,277.1 530.9,277.7 531.1,276.2 531.3,277.4 531.5,277.7 531.7,277.0 531.9,276.4 532.1,276.8 532.3,277.1 532.5,275.2 532.7,274.4 532.9,277.1 533.1,275.3 533.3,274.2 533.5,275.5 533.7,275.5"/>
<polyline class="cv" stroke="#ff22cc" points="48.3,394.7 48.5,395.5 48.7,393.1 48.9,394.1 49.1,396.0 49.3,395.7 49.5,391.9 49.7,392.1 49.9,391.3 50.1,393.3 50.3,391.1 50.5,393.1 50.7,394.1 50.9,391.8 51.1,393.6 51.3,393.7 51.5,391.0 51.7,393.3 51.9,391.4 52.1,392.3 52.3,391.2 52.5,393.5 52.7,392.3 52.9,391.4 53.1,393.1 53.3,393.8 53.5,390.9 53.7,390.6 53.9,392.1 54.1,395.2 54.3,395.0 54.5,393.7 54.7,394.8 54.9,394.4 55.1,392.8 55.3,391.1 55.5,393.6 55.7,393.0 55.9,391.9 56.1,391.2 56.3,392.8 56.5,392.4 56.7,391.8 56.9,391.9 57.1,392.8 57.3,395.3 57.5,394.6 57.7,393.0 57.9,393.2 58.1,393.4 58.3,391.9 58.5,391.7 58.7,393.1 58.9,390.8 59.1,392.2 59.3,391.7 59.5,393.3 59.7,393.8 59.9,393.4 60.1,393.9 60.3,392.6 60.5,394.8 60.7,393.3 60.9,395.1 61.1,394.0 61.3,394.7 61.5,392.3 61.7,393.8 61.9,397.3 62.1,393.4 62.3,395.8 62.5,395.2 62.7,395.3 62.9,393.0 63.1,393.7 63.3,391.4 63.5,391.7 63.7,392.2 63.9,392.2 64.1,391.8 64.3,391.2 64.5,393.3 64.7,391.8 64.9,396.1 65.1,394.8 65.3,393.7 65.5,394.4 65.7,391.4 65.9,394.4 66.1,394.2 66.3,393.7 66.5,392.3 66.7,393.7 66.9,393.2 67.1,392.6 67.3,393.7 67.5,392.1 67.7,391.1 67.9,391.9 68.1,389.8 68.3,389.5 68.5,392.1 68.7,392.5 68.9,393.5 69.1,393.0 69.3,391.5 69.5,389.6 69.7,391.3 69.9,393.8 70.1,393.5 70.3,392.6 70.5,392.6 70.7,391.6 70.9,391.2 71.1,390.2 71.3,394.2 71.5,392.5 71.7,389.8 71.9,391.1 72.1,389.2 72.3,390.0 72.5,392.7 72.7,392.3 72.9,391.6 73.1,390.8 73.3,392.3 73.5,394.7 73.7,392.8 73.9,391.2 74.1,391.0 74.3,390.6 74.5,395.1 74.7,393.1 74.9,394.1 75.1,390.7 75.3,391.8 75.5,393.7 75.7,394.5 75.9,391.3 76.1,389.6 76.3,394.3 76.5,391.4 76.7,393.7 76.9,391.1 77.1,393.6 77.3,394.7 77.5,393.9 77.7,392.1 77.9,393.8 78.1,391.2 78.3,391.9 78.5,392.2 78.7,394.1 78.9,390.2 79.1,393.7 79.3,393.0 79.5,393.6 79.7,389.8 79.9,389.5 80.1,389.9 80.3,392.8 80.5,393.0 80.7,391.9 80.9,391.4 81.1,390.4 81.3,392.7 81.5,392.8 81.7,388.8 81.9,389.0 82.1,391.9 82.3,391.8 82.5,389.9 82.7,389.7 82.9,390.1 83.1,390.7 83.3,388.5 83.5,391.9 83.7,390.6 83.9,391.7 84.1,388.5 84.3,391.9 84.5,390.4 84.7,388.4 84.9,391.2 85.1,389.4 85.3,390.0 85.5,386.6 85.7,387.0 85.9,390.2 86.1,388.0 86.3,388.9 86.5,386.8 86.7,390.6 86.9,388.4 87.1,390.7 87.3,386.9 87.5,388.2 87.7,385.6 87.9,389.6 88.1,387.5 88.3,385.2 88.5,385.6 88.7,387.7 88.9,385.2 89.1,384.8 89.3,385.7 89.5,385.5 89.7,385.6 89.9,384.7 90.1,382.7 90.3,383.1 90.5,379.6 90.7,379.5 90.9,380.9 91.1,376.8 91.3,376.1 91.5,375.0 91.7,374.8 91.9,371.4 92.1,369.7 92.3,370.6 92.5,366.5 92.7,366.0 92.9,363.3 93.1,358.4 93.3,355.1 93.5,349.2 93.7,343.4 93.9,340.7 94.1,336.3 94.3,332.8 94.5,327.6 94.7,326.8 94.9,329.8 95.1,328.7 95.3,332.2 95.5,338.7 95.7,339.3 95.9,343.1 96.1,350.2 96.3,354.3 96.5,358.5 96.7,359.0 96.9,364.1 97.1,364.8 97.3,368.6 97.5,373.0 97.7,371.9 97.9,374.6 98.1,379.3 98.3,380.4 98.5,378.8 98.7,381.4 98.9,381.7 99.1,381.9 99.3,384.8 99.5,382.0 99.7,385.6 99.9,382.6 100.1,387.9 100.3,387.4 100.5,387.3 100.7,388.6 100.9,387.6 101.1,389.6 101.3,386.5 101.5,388.9 101.7,391.0 101.9,391.0 102.1,386.4 102.3,386.8 102.5,389.4 102.7,386.7 102.9,385.4 103.1,388.8 103.3,387.3 103.5,388.5 103.7,387.1 103.9,387.5 104.1,388.1 104.3,387.4 104.5,390.7 104.7,389.5 104.9,390.7 105.1,391.0 105.3,387.7 105.5,391.6 105.7,391.1 105.9,389.2 106.1,388.7 106.3,386.2 106.5,389.9 106.7,387.1 106.9,388.1 107.1,386.6 107.3,386.0 107.5,388.4 107.7,388.6 107.9,389.8 108.1,390.9 108.3,392.5 108.5,387.8 108.7,390.6 108.9,390.6 109.1,390.6 109.3,390.4 109.5,391.0 109.7,392.0 109.9,389.7 110.1,389.6 110.3,389.5 110.5,386.7 110.7,388.1 110.9,386.5 111.1,386.8 111.3,386.0 111.5,386.7 111.7,386.8 111.9,387.7 112.1,388.6 112.3,390.6 112.5,388.9 112.7,390.9 112.9,388.4 113.1,390.0 113.3,389.3 113.5,389.7 113.7,387.7 113.9,391.2 114.1,389.9 114.3,385.9 114.5,387.1 114.7,388.9 114.9,383.1 115.1,383.9 115.3,385.1 115.5,380.4 115.7,383.4 115.9,381.8 116.1,382.4 116.3,380.8 116.5,382.4 116.7,379.3 116.9,380.6 117.1,377.5 117.3,380.3 117.5,380.1 117.7,383.1 117.9,383.3 118.1,379.6 118.3,380.4 118.5,381.2 118.7,382.2 118.9,385.9 119.1,386.0 119.3,386.2 119.5,386.5 119.7,385.0 119.9,388.3 120.1,391.6 120.3,390.9 120.5,390.2 120.7,388.6 120.9,391.9 121.1,389.5 121.3,391.1 121.5,389.0 121.7,389.7 121.9,389.1 122.1,389.4 122.3,387.5 122.5,390.8 122.7,388.1 122.9,390.5 123.1,390.5 123.3,390.6 123.5,388.8 123.7,389.3 123.9,391.7 124.1,390.0 124.3,388.7 124.5,392.2 124.7,388.1 124.9,392.7 125.1,390.0 125.3,390.1 125.5,393.7 125.7,390.9 125.9,392.3 126.1,390.3 126.3,392.7 126.5,391.9 126.7,390.2 126.9,388.2 127.1,389.3 127.3,390.9 127.5,389.2 127.7,389.8 127.9,388.8 128.1,390.6 128.3,390.9 128.5,391.6 128.7,392.3 128.9,392.0 129.1,390.6 129.3,389.9 129.5,391.7 129.7,389.1 129.9,390.5 130.1,392.0 130.3,391.7 130.5,389.7 130.7,388.3 130.9,390.0 131.1,389.7 131.3,388.8 131.5,387.6 131.7,387.7 131.9,385.5 132.1,386.0 132.3,385.1 132.5,387.7 132.7,389.3 132.9,385.1 133.1,384.9 133.3,388.3 133.5,387.1 133.7,388.4 133.9,385.9 134.1,386.1 134.3,388.6 134.5,388.0 134.7,388.5 134.9,388.7 135.1,384.9 135.3,385.7 135.5,384.0 135.7,383.2 135.9,382.1 136.1,384.3 136.3,381.4 136.5,377.2 136.7,378.8 136.9,378.6 137.1,377.0 137.3,373.8 137.5,369.0 137.7,370.6 137.9,368.4 138.1,364.7 138.3,359.7 138.5,355.6 138.7,352.4 138.9,343.5 139.1,340.4 139.3,331.2 139.5,320.7 139.7,315.9 139.9,305.4 140.1,296.7 140.3,291.4 140.5,292.8 140.7,290.5 140.9,297.6 141.1,304.5 141.3,308.9 141.5,319.0 141.7,328.9 141.9,335.1 142.1,343.6 142.3,347.9 142.5,354.1 142.7,357.0 142.9,364.0 143.1,367.6 143.3,369.4 143.5,370.8 143.7,373.4 143.9,376.7 144.1,375.8 144.3,378.5 144.5,379.0 144.7,380.3 144.9,381.4 145.1,384.0 145.3,381.7 145.5,383.1 145.7,382.8 145.9,382.4 146.1,385.0 146.3,387.8 146.5,388.2 146.7,386.3 146.9,386.6 147.1,389.7 147.3,388.5 147.5,388.8 147.7,389.8 147.9,386.9 148.1,390.9 148.3,387.8 148.5,390.3 148.7,392.2 148.9,390.8 149.1,389.3 149.3,391.3 149.5,392.2 149.7,391.2 149.9,389.5 150.1,393.7 150.3,389.4 150.5,392.6 150.7,394.1 150.9,390.1 151.1,392.6 151.3,393.0 151.5,389.8 151.7,390.0 151.9,388.8 152.1,388.8 152.3,388.2 152.5,389.0 152.7,391.1 152.9,390.8 153.1,391.1 153.3,390.7 153.5,391.7 153.7,388.7 153.9,390.4 154.1,388.6 154.3,391.0 154.5,392.8 154.7,390.4 154.9,389.4 155.1,388.9 155.3,389.4 155.5,392.1 155.7,391.9 155.9,391.1 156.1,391.4 156.3,390.4 156.5,388.5 156.7,390.0 156.9,391.8 157.1,391.8 157.3,391.6 157.5,391.1 157.7,390.0 157.9,394.4 158.1,391.3 158.3,395.6 158.5,391.0 158.7,395.5 158.9,392.5 159.1,394.8 159.3,391.5 159.5,393.5 159.7,392.5 159.9,394.2 160.1,393.8 160.3,392.4 160.5,393.9 160.7,395.4 160.9,391.0 161.1,393.5 161.3,393.9 161.5,393.6 161.7,391.6 161.9,395.2 162.1,392.2 162.3,395.4 162.5,393.1 162.7,391.0 162.9,394.4 163.1,390.6 163.3,394.2 163.5,393.3 163.7,394.6 163.9,394.5 164.1,392.8 164.3,391.3 164.5,392.2 164.7,391.1 164.9,393.8 165.1,391.4 165.3,391.7 165.5,391.6 165.7,392.2 165.9,393.6 166.1,392.3 166.3,393.3 166.5,391.4 166.7,392.7 166.9,392.9 167.1,395.8 167.3,392.0 167.5,395.6 167.7,396.0 167.9,394.5 168.1,391.8 168.3,392.4 168.5,392.1 168.7,391.9 168.9,391.9 169.1,395.1 169.3,394.4 169.5,394.2 169.7,393.7 169.9,391.4 170.1,394.5 170.3,392.3 170.5,391.2 170.7,394.2 170.9,391.5 171.1,394.2 171.3,393.6 171.5,391.8 171.7,393.0 171.9,394.8 172.1,394.8 172.3,394.1 172.5,392.0 172.7,392.2 172.9,393.5 173.1,392.3 173.3,393.7 173.5,393.2 173.7,390.8 173.9,389.7 174.1,392.7 174.3,391.0 174.5,392.4 174.7,390.5 174.9,391.0 175.1,392.4 175.3,393.5 175.5,390.8 175.7,394.1 175.9,394.4 176.1,393.6 176.3,393.6 176.5,390.7 176.7,390.0 176.9,391.3 177.1,389.9 177.3,391.2 177.5,392.9 177.7,390.7 177.9,394.1 178.1,391.3 178.3,390.0 178.5,392.4 178.7,391.0 178.9,390.2 179.1,391.2 179.3,393.2 179.5,391.8 179.7,389.5 179.9,391.8 180.1,388.3 180.3,389.5 180.5,389.3 180.7,392.7 180.9,387.6 181.1,390.7 181.3,390.1 181.5,388.8 181.7,391.8 181.9,392.7 182.1,392.6 182.3,389.6 182.5,393.3 182.7,390.5 182.9,393.2 183.1,391.9 183.3,389.4 183.5,392.7 183.7,391.2 183.9,391.2 184.1,392.2 184.3,390.9 184.5,388.8 184.7,393.3 184.9,389.8 185.1,389.8 185.3,388.4 185.5,391.7 185.7,392.9 185.9,390.0 186.1,391.5 186.3,388.7 186.5,388.4 186.7,388.0 186.9,388.2 187.1,389.4 187.3,388.5 187.5,387.1 187.7,389.4 187.9,387.4 188.1,387.6 188.3,386.3 188.5,385.7 188.7,388.7 188.9,387.6 189.1,390.0 189.3,385.1 189.5,389.1 189.7,385.8 189.9,386.6 190.1,385.9 190.3,388.6 190.5,388.3 190.7,388.2 190.9,391.7 191.1,389.9 191.3,392.0 191.5,392.6 191.7,389.8 191.9,391.4 192.1,389.3 192.3,390.6 192.5,392.7 192.7,392.3 192.9,389.8 193.1,390.2 193.3,393.6 193.5,392.6 193.7,392.7 193.9,390.9 194.1,393.8 194.3,392.5 194.5,389.9 194.7,390.0 194.9,392.4 195.1,394.5 195.3,392.7 195.5,391.5 195.7,393.3 195.9,390.4 196.1,393.1 196.3,392.5 196.5,390.9 196.7,393.0 196.9,393.0 197.1,394.7 197.3,393.8 197.5,391.4 197.7,393.6 197.9,391.5 198.1,393.4 198.3,392.6 198.5,392.5 198.7,390.9 198.9,393.3 199.1,392.2 199.3,393.3 199.5,390.5 199.7,393.8 199.9,395.3 200.1,392.9 200.3,391.1 200.5,395.0 200.7,393.0 200.9,391.4 201.1,393.2 201.3,394.5 201.5,390.4 201.7,392.5 201.9,393.2 202.1,395.3 202.3,390.4 202.5,392.5 202.7,393.0 202.9,393.0 203.1,393.6 203.3,392.6 203.5,392.0 203.7,392.0 203.9,389.4 204.1,392.1 204.3,390.6 204.5,388.6 204.7,393.3 204.9,392.7 205.1,393.1 205.3,390.1 205.5,393.7 205.7,391.6 205.9,393.7 206.1,390.9 206.3,391.4 206.5,390.0 206.7,389.1 206.9,390.9 207.1,392.6 207.3,390.8 207.5,390.3 207.7,393.4 207.9,392.8 208.1,393.8 208.3,390.7 208.5,390.1 208.7,393.8 208.9,389.2 209.1,392.8 209.3,393.5 209.5,392.4 209.7,392.0 209.9,390.9 210.1,390.8 210.3,389.8 210.5,391.3 210.7,392.8 210.9,391.4 211.1,394.6 211.3,395.2 211.5,391.3 211.7,392.7 211.9,393.6 212.1,392.0 212.3,390.8 212.5,393.1 212.7,391.0 212.9,391.4 213.1,392.0 213.3,389.2 213.5,391.1 213.7,388.4 213.9,390.0 214.1,387.4 214.3,389.6 214.5,387.2 214.7,389.8 214.9,385.3 215.1,387.4 215.3,387.7 215.5,386.9 215.7,384.6 215.9,383.9 216.1,381.4 216.3,383.2 216.5,381.1 216.7,377.7 216.9,375.5 217.1,375.2 217.3,370.7 217.5,365.2 217.7,361.6 217.9,361.0 218.1,355.7 218.3,351.6 218.5,347.6 218.7,343.4 218.9,345.7 219.1,343.4 219.3,344.3 219.5,345.8 219.7,346.8 219.9,353.3 220.1,356.3 220.3,354.0 220.5,356.6 220.7,360.3 220.9,365.6 221.1,365.7 221.3,369.7 221.5,368.6 221.7,370.4 221.9,373.7 222.1,373.9 222.3,373.8 222.5,375.7 222.7,377.7 222.9,377.5 223.1,376.9 223.3,377.3 223.5,380.3 223.7,377.7 223.9,377.3 224.1,377.6 224.3,380.4 224.5,379.6 224.7,376.0 224.9,374.0 225.1,374.8 225.3,377.0 225.5,375.7 225.7,378.2 225.9,379.7 226.1,380.4 226.3,382.9 226.5,382.6 226.7,382.5 226.9,387.0 227.1,388.4 227.3,387.3 227.5,385.8 227.7,389.9 227.9,390.6 228.1,391.0 228.3,390.1 228.5,392.1 228.7,389.3 228.9,391.1 229.1,393.4 229.3,393.5 229.5,393.3 229.7,392.4 229.9,392.5 230.1,391.8 230.3,390.9 230.5,394.5 230.7,392.8 230.9,391.7 231.1,392.3 231.3,391.7 231.5,391.4 231.7,393.7 231.9,391.5 232.1,391.3 232.3,393.9 232.5,389.8 232.7,394.6 232.9,391.9 233.1,393.8 233.3,394.0 233.5,393.7 233.7,391.1 233.9,394.3 234.1,393.8 234.3,392.8 234.5,393.8 234.7,393.9 234.9,392.8 235.1,392.7 235.3,391.6 235.5,391.4 235.7,393.6 235.9,395.1 236.1,390.4 236.3,393.2 236.5,392.8 236.7,393.8 236.9,391.2 237.1,390.8 237.3,391.4 237.5,394.4 237.7,394.8 237.9,394.9 238.1,392.6 238.3,393.2 238.5,393.5 238.7,395.6 238.9,393.8 239.1,397.1 239.3,397.5 239.5,395.9 239.7,393.5 239.9,394.0 240.1,395.1 240.3,396.4 240.5,393.3 240.7,395.7 240.9,396.9 241.1,395.4 241.3,396.0 241.5,396.4 241.7,393.3 241.9,393.0 242.1,396.9 242.3,393.7 242.5,392.4 242.7,394.7 242.9,393.7 243.1,392.5 243.3,395.5 243.5,392.9 243.7,395.4 243.9,392.3 244.1,391.2 244.3,395.5 244.5,392.9 244.7,396.2 244.9,394.0 245.1,395.0 245.3,393.0 245.5,394.3 245.7,396.2 245.9,396.9 246.1,396.3 246.3,396.6 246.5,395.5 246.7,396.6 246.9,392.9 247.1,392.1 247.3,392.4 247.5,393.8 247.7,393.3 247.9,391.9 248.1,392.3 248.3,393.6 248.5,393.8 248.7,393.7 248.9,395.6 249.1,396.2 249.3,396.9 249.5,394.6 249.7,397.4 249.9,394.6 250.1,394.6 250.3,394.1 250.5,395.9 250.7,395.3 250.9,393.6 251.1,393.1 251.3,391.6 251.5,392.7 251.7,391.6 251.9,393.0 252.1,392.2 252.3,394.9 252.5,395.5 252.7,394.6 252.9,394.6 253.1,394.3 253.3,397.7 253.5,398.0 253.7,396.3 253.9,397.2 254.1,395.2 254.3,396.1 254.5,395.4 254.7,398.3 254.9,396.3 255.1,397.5 255.3,396.3 255.5,392.9 255.7,393.6 255.9,394.9 256.1,396.5 256.3,395.3 256.5,393.3 256.7,394.4 256.9,393.8 257.1,395.4 257.3,393.3 257.5,390.7 257.7,396.1 257.9,391.8 258.1,393.1 258.3,395.8 258.5,394.4 258.7,394.8 258.9,393.6 259.1,394.1 259.3,393.6 259.5,396.0 259.7,393.7 259.9,392.3 260.1,392.1 260.3,391.6 260.5,394.9 260.7,391.1 260.9,391.5 261.1,392.8 261.3,391.2 261.5,393.7 261.7,393.1 261.9,393.0 262.1,392.9 262.3,392.8 262.5,393.6 262.7,395.2 262.9,391.6 263.1,392.8 263.3,395.0 263.5,394.9 263.7,394.5 263.9,393.0 264.1,392.8 264.3,394.2 264.5,393.1 264.7,395.1 264.9,395.2 265.1,394.8 265.3,394.8 265.5,395.4 265.7,393.4 265.9,392.0 266.1,391.9 266.3,391.0 266.5,392.7 266.7,393.9 266.9,393.4 267.1,391.1 267.3,393.4 267.5,394.1 267.7,392.1 267.9,392.9 268.1,390.4 268.3,392.9 268.5,390.2 268.7,391.4 268.9,393.4 269.1,392.1 269.3,390.9 269.5,393.2 269.7,391.8 269.9,393.1 270.1,390.6 270.3,391.7 270.5,392.1 270.7,389.1 270.9,389.1 271.1,388.6 271.3,388.8 271.5,392.6 271.7,391.2 271.9,390.9 272.1,392.3 272.3,388.6 272.5,391.0 272.7,390.0 272.9,389.4 273.1,392.1 273.3,392.4 273.5,391.4 273.7,391.9 273.9,392.9 274.1,390.2 274.3,391.8 274.5,390.6 274.7,393.0 274.9,392.3 275.1,391.6 275.3,393.1 275.5,390.5 275.7,389.0 275.9,390.8 276.1,390.2 276.3,393.7 276.5,390.0 276.7,391.9 276.9,391.4 277.1,389.7 277.3,392.2 277.5,392.1 277.7,391.9 277.9,394.5 278.1,390.6 278.3,393.0 278.5,391.1 278.7,392.1 278.9,391.8 279.1,393.1 279.3,394.7 279.5,391.2 279.7,393.3 279.9,393.9 280.1,392.0 280.3,392.2 280.5,395.4 280.7,391.6 280.9,393.7 281.1,394.4 281.3,393.9 281.5,390.3 281.7,394.4 281.9,390.7 282.1,390.4 282.3,392.9 282.5,390.2 282.7,391.5 282.9,393.5 283.1,392.3 283.3,392.3 283.5,394.2 283.7,390.2 283.9,394.3 284.1,392.7 284.3,392.9 284.5,389.7 284.7,393.2 284.9,391.1 285.1,391.5 285.3,392.6 285.5,391.2 285.7,393.4 285.9,393.1 286.1,390.8 286.3,389.7 286.5,390.9 286.7,394.4 286.9,391.2 287.1,391.6 287.3,390.2 287.5,391.8 287.7,394.4 287.9,391.7 288.1,389.4 288.3,392.2 288.5,393.0 288.7,390.4 288.9,389.6 289.1,390.9 289.3,392.5 289.5,390.8 289.7,388.2 289.9,391.2 290.1,389.2 290.3,390.5 290.5,389.8 290.7,388.3 290.9,389.0 291.1,388.3 291.3,390.3 291.5,388.7 291.7,392.4 291.9,391.9 292.1,391.8 292.3,389.8 292.5,393.0 292.7,393.4 292.9,389.1 293.1,389.7 293.3,388.7 293.5,389.6 293.7,392.6 293.9,393.8 294.1,391.8 294.3,391.2 294.5,392.9 294.7,393.8 294.9,392.2 295.1,392.5 295.3,392.4 295.5,392.6 295.7,392.8 295.9,391.3 296.1,395.2 296.3,393.8 296.5,394.8 296.7,393.9 296.9,395.7 297.1,392.5 297.3,394.8 297.5,395.1 297.7,391.5 297.9,392.8 298.1,390.7 298.3,393.7 298.5,392.5 298.7,390.2 298.9,394.3 299.1,394.9 299.3,392.5 299.5,394.7 299.7,390.5 299.9,393.2 300.1,391.7 300.3,390.3 300.5,391.5 300.7,392.1 300.9,389.4 301.1,393.3 301.3,390.8 301.5,391.4 301.7,394.0 301.9,393.9 302.1,392.7 302.3,392.8 302.5,392.7 302.7,392.3 302.9,392.4 303.1,393.3 303.3,390.3 303.5,394.4 303.7,390.8 303.9,390.4 304.1,392.1 304.3,391.8 304.5,392.1 304.7,393.1 304.9,389.1 305.1,389.5 305.3,389.6 305.5,391.1 305.7,390.2 305.9,391.5 306.1,390.2 306.3,388.5 306.5,391.4 306.7,390.2 306.9,389.5 307.1,389.4 307.3,391.8 307.5,390.2 307.7,387.4 307.9,388.9 308.1,391.3 308.3,387.6 308.5,387.3 308.7,387.2 308.9,386.7 309.1,385.7 309.3,387.2 309.5,389.0 309.7,388.7 309.9,387.8 310.1,384.8 310.3,385.1 310.5,381.0 310.7,382.6 310.9,379.4 311.1,380.2 311.3,376.9 311.5,376.6 311.7,375.6 311.9,375.3 312.1,373.8 312.3,373.3 312.5,375.5 312.7,376.9 312.9,375.7 313.1,379.4 313.3,378.2 313.5,378.6 313.7,379.2 313.9,382.5 314.1,380.5 314.3,382.3 314.5,382.4 314.7,385.0 314.9,380.6 315.1,384.2 315.3,381.2 315.5,383.2 315.7,380.7 315.9,382.4 316.1,380.9 316.3,380.1 316.5,380.2 316.7,379.8 316.9,384.0 317.1,382.7 317.3,382.6 317.5,385.1 317.7,384.2 317.9,385.4 318.1,383.8 318.3,383.3 318.5,383.3 318.7,384.8 318.9,385.0 319.1,386.3 319.3,385.2 319.5,385.1 319.7,385.0 319.9,386.4 320.1,387.2 320.3,386.5 320.5,389.2 320.7,390.2 320.9,389.2 321.1,388.3 321.3,392.0 321.5,388.6 321.7,388.7 321.9,391.4 322.1,392.2 322.3,390.2 322.5,389.4 322.7,392.2 322.9,390.8 323.1,392.9 323.3,390.0 323.5,392.3 323.7,391.1 323.9,394.2 324.1,394.8 324.3,393.0 324.5,393.5 324.7,394.3 324.9,394.3 325.1,391.0 325.3,391.7 325.5,393.7 325.7,391.6 325.9,392.5 326.1,394.6 326.3,393.1 326.5,393.2 326.7,391.7 326.9,391.6 327.1,394.7 327.3,393.9 327.5,391.4 327.7,394.7 327.9,394.8 328.1,391.5 328.3,393.2 328.5,389.7 328.7,390.3 328.9,393.4 329.1,392.2 329.3,391.5 329.5,391.1 329.7,390.8 329.9,390.7 330.1,392.3 330.3,392.5 330.5,391.6 330.7,394.3 330.9,391.4 331.1,391.5 331.3,395.0 331.5,392.8 331.7,391.5 331.9,392.4 332.1,391.5 332.3,391.4 332.5,394.9 332.7,390.6 332.9,393.8 333.1,392.2 333.3,391.1 333.5,393.4 333.7,391.8 333.9,389.7 334.1,391.3 334.3,392.2 334.5,391.4 334.7,391.0 334.9,391.0 335.1,390.6 335.3,391.2 335.5,393.6 335.7,393.0 335.9,391.1 336.1,392.0 336.3,388.5 336.5,389.7 336.7,390.3 336.9,387.0 337.1,388.0 337.3,386.8 337.5,383.8 337.7,386.5 337.9,382.9 338.1,382.6 338.3,378.7 338.5,379.9 338.7,379.3 338.9,380.9 339.1,378.1 339.3,382.6 339.5,381.4 339.7,384.9 339.9,385.7 340.1,386.0 340.3,386.3 340.5,388.1 340.7,389.4 340.9,389.6 341.1,388.7 341.3,392.0 341.5,392.8 341.7,391.9 341.9,391.9 342.1,394.7 342.3,392.2 342.5,390.9 342.7,394.3 342.9,391.1 343.1,391.9 343.3,392.2 343.5,391.1 343.7,390.0 343.9,390.5 344.1,392.1 344.3,390.8 344.5,394.1 344.7,391.5 344.9,391.1 345.1,391.3 345.3,391.5 345.5,394.6 345.7,392.9 345.9,393.3 346.1,394.3 346.3,391.6 346.5,393.5 346.7,394.8 346.9,392.6 347.1,395.3 347.3,393.8 347.5,393.7 347.7,395.6 347.9,392.4 348.1,394.8 348.3,391.5 348.5,392.8 348.7,391.0 348.9,392.0 349.1,391.6 349.3,393.8 349.5,394.6 349.7,390.3 349.9,390.2 350.1,392.8 350.3,394.1 350.5,394.5 350.7,393.8 350.9,393.6 351.1,392.9 351.3,390.7 351.5,394.6 351.7,393.5 351.9,393.0 352.1,391.2 352.3,392.2 352.5,392.4 352.7,395.1 352.9,393.6 353.1,394.1 353.3,392.9 353.5,394.5 353.7,392.3 353.9,392.9 354.1,394.0 354.3,393.3 354.5,396.1 354.7,392.8 354.9,394.0 355.1,395.8 355.3,393.2 355.5,393.9 355.7,394.3 355.9,392.9 356.1,392.4 356.3,392.2 356.5,393.7 356.7,392.5 356.9,393.4 357.1,391.6 357.3,392.1 357.5,394.2 357.7,390.3 357.9,394.1 358.1,390.3 358.3,393.4 358.5,391.7 358.7,392.9 358.9,391.2 359.1,391.2 359.3,391.0 359.5,390.8 359.7,392.8 359.9,391.2 360.1,392.3 360.3,394.6 360.5,393.9 360.7,392.9 360.9,391.0 361.1,391.2 361.3,395.1 361.5,393.1 361.7,393.9 361.9,394.4 362.1,394.0 362.3,394.4 362.5,393.8 362.7,393.2 362.9,393.1 363.1,394.6 363.3,395.0 363.5,392.5 363.7,391.3 363.9,394.3 364.1,391.7 364.3,393.7 364.5,391.7 364.7,393.5 364.9,392.2 365.1,391.3 365.3,391.3 365.5,392.2 365.7,392.8 365.9,392.1 366.1,392.3 366.3,392.6 366.5,390.8 366.7,392.8 366.9,393.8 367.1,392.5 367.3,392.9 367.5,392.2 367.7,393.1 367.9,394.3 368.1,394.6 368.3,393.2 368.5,394.4 368.7,394.5 368.9,394.5 369.1,394.7 369.3,393.7 369.5,392.1 369.7,392.1 369.9,392.9 370.1,393.5 370.3,393.3 370.5,392.4 370.7,394.6 370.9,393.4 371.1,395.4 371.3,392.1 371.5,393.5 371.7,392.9 371.9,391.8 372.1,390.7 372.3,393.6 372.5,389.6 372.7,393.1 372.9,391.0 373.1,392.6 373.3,389.1 373.5,389.6 373.7,390.8 373.9,391.9 374.1,391.9 374.3,390.5 374.5,392.7 374.7,391.1 374.9,390.2 375.1,389.9 375.3,390.0 375.5,391.9 375.7,389.4 375.9,390.1 376.1,388.8 376.3,392.2 376.5,391.9 376.7,389.2 376.9,389.7 377.1,392.2 377.3,390.2 377.5,389.1 377.7,390.1 377.9,388.3 378.1,387.2 378.3,389.3 378.5,390.6 378.7,387.6 378.9,390.0 379.1,388.9 379.3,390.1 379.5,388.7 379.7,388.9 379.9,390.0 380.1,389.0 380.3,389.6 380.5,388.9 380.7,391.5 380.9,390.5 381.1,389.5 381.3,392.8 381.5,390.7 381.7,390.3 381.9,392.4 382.1,393.2 382.3,392.4 382.5,393.2 382.7,392.6 382.9,393.9 383.1,392.9 383.3,391.0 383.5,393.0 383.7,390.3 383.9,390.6 384.1,391.6 384.3,393.2 384.5,390.6 384.7,390.1 384.9,391.6 385.1,391.9 385.3,389.5 385.5,390.1 385.7,390.5 385.9,390.3 386.1,391.4 386.3,388.9 386.5,391.6 386.7,388.5 386.9,389.2 387.1,391.5 387.3,390.6 387.5,393.0 387.7,392.3 387.9,392.8 388.1,390.7 388.3,392.0 388.5,391.9 388.7,391.6 388.9,392.6 389.1,393.5 389.3,394.9 389.5,392.8 389.7,390.6 389.9,391.8 390.1,391.8 390.3,391.3 390.5,391.6 390.7,391.0 390.9,392.8 391.1,391.6 391.3,393.1 391.5,391.0 391.7,393.1 391.9,390.0 392.1,391.0 392.3,388.9 392.5,389.9 392.7,391.7 392.9,390.6 393.1,389.4 393.3,388.0 393.5,390.6 393.7,390.0 393.9,387.5 394.1,388.9 394.3,389.0 394.5,385.9 394.7,385.7 394.9,387.2 395.1,387.9 395.3,385.7 395.5,384.2 395.7,385.9 395.9,386.4 396.1,386.9 396.3,387.4 396.5,388.0 396.7,387.6 396.9,385.4 397.1,387.9 397.3,388.7 397.5,387.4 397.7,386.7 397.9,389.5 398.1,389.1 398.3,388.5 398.5,386.6 398.7,388.7 398.9,388.8 399.1,390.0 399.3,391.3 399.5,389.8 399.7,389.9 399.9,390.9 400.1,390.0 400.3,390.2 400.5,388.5 400.7,389.7 400.9,391.3 401.1,390.9 401.3,390.5 401.5,389.6 401.7,389.6 401.9,389.3 402.1,393.0 402.3,391.9 402.5,392.8 402.7,393.0 402.9,393.2 403.1,391.4 403.3,392.5 403.5,392.5 403.7,391.4 403.9,392.9 404.1,394.5 404.3,395.0 404.5,392.6 404.7,394.6 404.9,391.0 405.1,391.1 405.3,391.3 405.5,391.5 405.7,390.5 405.9,391.2 406.1,390.8 406.3,393.0 406.5,392.7 406.7,391.4 406.9,389.8 407.1,390.8 407.3,389.7 407.5,393.1 407.7,391.7 407.9,390.3 408.1,392.0 408.3,390.4 408.5,392.1 408.7,391.4 408.9,392.4 409.1,392.7 409.3,392.0 409.5,391.1 409.7,391.7 409.9,392.4 410.1,391.3 410.3,393.7 410.5,392.5 410.7,391.0 410.9,392.9 411.1,393.0 411.3,392.5 411.5,392.4 411.7,392.5 411.9,390.5 412.1,390.2 412.3,393.1 412.5,391.9 412.7,392.0 412.9,392.3 413.1,393.0 413.3,391.8 413.5,390.3 413.7,390.3 413.9,389.6 414.1,390.6 414.3,389.0 414.5,386.4 414.7,387.5 414.9,386.8 415.1,385.5 415.3,382.8 415.5,381.6 415.7,381.3 415.9,379.5 416.1,378.2 416.3,379.9 416.5,381.2 416.7,381.5 416.9,383.1 417.1,384.8 417.3,385.3 417.5,388.6 417.7,387.3 417.9,390.0 418.1,389.5 418.3,389.9 418.5,392.0 418.7,392.6 418.9,390.8 419.1,393.0 419.3,391.2 419.5,391.5 419.7,391.7 419.9,392.7 420.1,391.7 420.3,391.5 420.5,394.0 420.7,392.9 420.9,393.1 421.1,392.6 421.3,391.0 421.5,391.5 421.7,392.6 421.9,392.2 422.1,391.6 422.3,392.2 422.5,390.7 422.7,394.1 422.9,394.8 423.1,393.6 423.3,394.4 423.5,392.1 423.7,393.6 423.9,392.4 424.1,391.3 424.3,392.4 424.5,392.4 424.7,393.3 424.9,393.5 425.1,391.8 425.3,393.7 425.5,393.4 425.7,391.8 425.9,393.2 426.1,393.8 426.3,391.8 426.5,390.3 426.7,390.6 426.9,392.3 427.1,392.9 427.3,391.9 427.5,391.8 427.7,393.2 427.9,393.1 428.1,393.9 428.3,393.5 428.5,393.5 428.7,393.1 428.9,392.4 429.1,393.3 429.3,393.7 429.5,392.6 429.7,393.3 429.9,391.9 430.1,394.1 430.3,392.3 430.5,394.0 430.7,395.2 430.9,395.6 431.1,394.7 431.3,395.0 431.5,394.5 431.7,395.3 431.9,392.4 432.1,393.7 432.3,393.1 432.5,392.4 432.7,394.6 432.9,394.0 433.1,392.2 433.3,392.6 433.5,393.1 433.7,392.5 433.9,391.8 434.1,390.5 434.3,392.8 434.5,393.2 434.7,392.4 434.9,390.5 435.1,390.1 435.3,392.3 435.5,392.0 435.7,392.9 435.9,390.6 436.1,391.6 436.3,391.6 436.5,392.0 436.7,392.6 436.9,391.1 437.1,392.6 437.3,393.4 437.5,393.9 437.7,391.1 437.9,391.7 438.1,392.0 438.3,391.8 438.5,391.5 438.7,394.3 438.9,392.7 439.1,393.3 439.3,393.0 439.5,391.2 439.7,392.8 439.9,392.3 440.1,392.8 440.3,394.8 440.5,393.6 440.7,394.0 440.9,393.5 441.1,392.3 441.3,392.5 441.5,391.7 441.7,395.0 441.9,394.4 442.1,392.7 442.3,393.4 442.5,391.4 442.7,392.9 442.9,390.6 443.1,392.0 443.3,392.1 443.5,392.3 443.7,393.5 443.9,392.4 444.1,394.5 444.3,395.4 444.5,394.6 444.7,392.6 444.9,391.7 445.1,392.9 445.3,393.5 445.5,392.7 445.7,393.2 445.9,392.5 446.1,390.8 446.3,391.1 446.5,392.8 446.7,392.4 446.9,392.8 447.1,390.4 447.3,391.2 447.5,389.9 447.7,390.2 447.9,390.5 448.1,391.3 448.3,392.1 448.5,391.2 448.7,390.5 448.9,390.0 449.1,389.0 449.3,390.6 449.5,389.4 449.7,390.7 449.9,390.2 450.1,390.4 450.3,391.4 450.5,389.2 450.7,390.3 450.9,388.6 451.1,389.5 451.3,389.9 451.5,390.8 451.7,388.4 451.9,389.7 452.1,391.0 452.3,387.4 452.5,387.3 452.7,389.2 452.9,387.9 453.1,387.6 453.3,388.5 453.5,389.4 453.7,389.4 453.9,388.7 454.1,387.5 454.3,390.9 454.5,389.5 454.7,390.0 454.9,391.4 455.1,392.0 455.3,390.3 455.5,391.0 455.7,393.6 455.9,393.6 456.1,391.7 456.3,392.7 456.5,393.2 456.7,393.6 456.9,394.5 457.1,392.3 457.3,391.0 457.5,393.7 457.7,390.7 457.9,391.4 458.1,391.8 458.3,391.1 458.5,389.8 458.7,391.0 458.9,391.3 459.1,389.8 459.3,392.5 459.5,391.5 459.7,391.7 459.9,392.3 460.1,393.6 460.3,392.0 460.5,393.6 460.7,391.9 460.9,392.8 461.1,392.9 461.3,390.3 461.5,391.6 461.7,390.3 461.9,390.7 462.1,391.6 462.3,391.0 462.5,393.2 462.7,390.7 462.9,391.0 463.1,391.8 463.3,391.0 463.5,393.5 463.7,392.5 463.9,391.0 464.1,390.9 464.3,388.9 464.5,389.0 464.7,388.6 464.9,390.0 465.1,389.1 465.3,385.6 465.5,385.8 465.7,387.4 465.9,388.0 466.1,387.7 466.3,387.4 466.5,386.6 466.7,387.2 466.9,389.8 467.1,389.3 467.3,389.3 467.5,389.4 467.7,388.4 467.9,388.2 468.1,391.5 468.3,390.3 468.5,390.9 468.7,389.7 468.9,392.0 469.1,390.2 469.3,390.1 469.5,389.6 469.7,389.9 469.9,391.2 470.1,392.7 470.3,393.5 470.5,391.5 470.7,391.5 470.9,391.4 471.1,392.1 471.3,394.1 471.5,392.4 471.7,390.4 471.9,392.8 472.1,390.9 472.3,389.5 472.5,392.1 472.7,389.8 472.9,390.0 473.1,393.1 473.3,392.1 473.5,390.1 473.7,391.2 473.9,390.1 474.1,391.8 474.3,391.7 474.5,390.8 474.7,390.7 474.9,393.3 475.1,391.0 475.3,391.8 475.5,391.8 475.7,393.2 475.9,394.2 476.1,393.0 476.3,391.4 476.5,392.1 476.7,392.6 476.9,391.8 477.1,392.4 477.3,392.0 477.5,393.4 477.7,391.5 477.9,391.8 478.1,394.4 478.3,392.3 478.5,393.9 478.7,393.9 478.9,394.3 479.1,395.6 479.3,393.2 479.5,392.6 479.7,392.9 479.9,395.2 480.1,393.5 480.3,392.6 480.5,392.6 480.7,391.8 480.9,393.4 481.1,391.5 481.3,393.3 481.5,393.5 481.7,391.8 481.9,394.7 482.1,392.5 482.3,395.3 482.5,392.9 482.7,393.7 482.9,394.5 483.1,394.4 483.3,391.6 483.5,392.4 483.7,393.3 483.9,393.0 484.1,393.2 484.3,391.3 484.5,393.3 484.7,391.6 484.9,392.8 485.1,393.2 485.3,392.1 485.5,394.2 485.7,394.2 485.9,391.9 486.1,393.9 486.3,394.4 486.5,396.1 486.7,395.5 486.9,394.2 487.1,395.8 487.3,394.6 487.5,393.7 487.7,393.6 487.9,393.5 488.1,394.2 488.3,393.9 488.5,392.2 488.7,391.8 488.9,392.7 489.1,392.5 489.3,392.1 489.5,391.3 489.7,391.5 489.9,393.4 490.1,392.2 490.3,392.9 490.5,394.3 490.7,391.8 490.9,394.3 491.1,394.7 491.3,392.0 491.5,393.6 491.7,391.5 491.9,391.6 492.1,391.9 492.3,393.2 492.5,391.4 492.7,392.8 492.9,392.4 493.1,393.8 493.3,393.8 493.5,393.9 493.7,394.8 493.9,392.8 494.1,391.7 494.3,394.2 494.5,391.3 494.7,394.3 494.9,393.8 495.1,391.6 495.3,392.3 495.5,392.8 495.7,392.6 495.9,393.8 496.1,391.0 496.3,393.5 496.5,392.0 496.7,392.8 496.9,394.4 497.1,394.3 497.3,391.6 497.5,393.7 497.7,391.5 497.9,393.9 498.1,392.0 498.3,390.5 498.5,392.1 498.7,390.5 498.9,393.1 499.1,393.6 499.3,393.7 499.5,391.3 499.7,390.9 499.9,393.7 500.1,393.8 500.3,393.8 500.5,393.3 500.7,391.9 500.9,389.7 501.1,392.9 501.3,393.9 501.5,391.9 501.7,391.8 501.9,391.9 502.1,393.9 502.3,393.2 502.5,391.4 502.7,393.4 502.9,392.7 503.1,393.2 503.3,392.9 503.5,391.8 503.7,391.2 503.9,391.0 504.1,393.1 504.3,393.0 504.5,391.8 504.7,393.6 504.9,390.5 505.1,393.7 505.3,391.5 505.5,393.0 505.7,391.9 505.9,391.1 506.1,390.9 506.3,392.5 506.5,392.2 506.7,393.2 506.9,391.6 507.1,393.7 507.3,390.3 507.5,390.8 507.7,393.1 507.9,391.6 508.1,393.5 508.3,393.1 508.5,391.6 508.7,391.5 508.9,393.0 509.1,392.2 509.3,393.3 509.5,393.4 509.7,392.1 509.9,394.1 510.1,393.1 510.3,394.7 510.5,393.0 510.7,395.1 510.9,393.8 511.1,394.5 511.3,394.7 511.5,394.7 511.7,392.7 511.9,391.5 512.1,390.6 512.3,393.5 512.5,390.9 512.7,392.7 512.9,391.0 513.1,390.3 513.3,392.1 513.5,391.0 513.7,389.3 513.9,391.6 514.1,389.7 514.3,391.1 514.5,391.9 514.7,390.6 514.9,392.4 515.1,390.0 515.3,390.7 515.5,392.4 515.7,391.5 515.9,390.7 516.1,389.2 516.3,388.8 516.5,391.7 516.7,389.4 516.9,390.6 517.1,389.3 517.3,390.2 517.5,389.2 517.7,391.1 517.9,391.6 518.1,391.0 518.3,391.6 518.5,390.2 518.7,392.4 518.9,391.8 519.1,389.6 519.3,392.4 519.5,391.5 519.7,390.5 519.9,391.7 520.1,390.3 520.3,390.1 520.5,389.8 520.7,387.5 520.9,388.3 521.1,389.6 521.3,389.6 521.5,387.9 521.7,388.5 521.9,388.0 522.1,390.8 522.3,388.5 522.5,390.3 522.7,389.5 522.9,388.4 523.1,391.3 523.3,391.0 523.5,388.6 523.7,389.7 523.9,388.7 524.1,391.4 524.3,389.0 524.5,391.5 524.7,389.7 524.9,391.0 525.1,390.1 525.3,391.3 525.5,392.1 525.7,392.5 525.9,391.2 526.1,390.6 526.3,392.3 526.5,390.1 526.7,391.9 526.9,389.9 527.1,392.8 527.3,392.8 527.5,391.8 527.7,390.8 527.9,389.5 528.1,389.8 528.3,392.4 528.5,389.1 528.7,390.7 528.9,388.8 529.1,390.5 529.3,390.2 529.5,388.5 529.7,388.9 529.9,389.2 530.1,389.9 530.3,388.9 530.5,388.4 530.7,387.5 530.9,391.1 531.1,391.6 531.3,390.3 531.5,392.7 531.7,389.9 531.9,390.7 532.1,391.1 532.3,392.5 532.5,389.7 532.7,391.6 532.9,388.9 533.1,388.9 533.3,388.2 533.5,388.6 533.7,387.8"/>
<polyline class="cv" stroke="#0c18ff" points="48.3,466.5 48.5,465.2 48.7,467.1 48.9,466.0 49.1,465.8 49.3,463.9 49.5,467.3 49.7,463.7 49.9,465.0 50.1,466.6 50.3,468.2 50.5,465.1 50.7,467.4 50.9,467.8 51.1,464.6 51.3,465.8 51.5,463.5 51.7,464.8 51.9,463.4 52.1,467.3 52.3,465.0 52.5,467.3 52.7,467.5 52.9,467.7 53.1,464.2 53.3,464.0 53.5,466.0 53.7,464.2 53.9,466.5 54.1,465.3 54.3,465.4 54.5,467.2 54.7,464.9 54.9,463.5 55.1,464.1 55.3,466.1 55.5,466.1 55.7,466.8 55.9,465.8 56.1,466.9 56.3,466.6 56.5,468.0 56.7,468.6 56.9,466.4 57.1,467.2 57.3,467.9 57.5,469.0 57.7,466.8 57.9,468.2 58.1,468.5 58.3,469.5 58.5,466.6 58.7,467.8 58.9,465.3 59.1,466.3 59.3,464.6 59.5,468.1 59.7,466.1 59.9,467.7 60.1,465.6 60.3,467.4 60.5,465.3 60.7,465.4 60.9,466.6 61.1,468.4 61.3,468.7 61.5,466.8 61.7,464.4 61.9,466.9 62.1,465.4 62.3,467.9 62.5,468.2 62.7,466.4 62.9,466.6 63.1,464.4 63.3,466.3 63.5,464.9 63.7,467.1 63.9,466.1 64.1,467.5 64.3,464.2 64.5,464.8 64.7,467.7 64.9,467.5 65.1,467.4 65.3,468.7 65.5,466.6 65.7,468.0 65.9,466.8 66.1,469.3 66.3,467.8 66.5,465.4 66.7,465.9 66.9,467.9 67.1,465.4 67.3,465.0 67.5,466.7 67.7,466.0 67.9,466.5 68.1,465.8 68.3,465.7 68.5,466.4 68.7,466.5 68.9,468.4 69.1,469.1 69.3,467.4 69.5,464.9 69.7,468.4 69.9,468.6 70.1,468.9 70.3,466.2 70.5,465.5 70.7,468.5 70.9,466.4 71.1,469.1 71.3,469.4 71.5,467.5 71.7,469.7 71.9,466.2 72.1,469.8 72.3,467.9 72.5,468.9 72.7,468.8 72.9,470.2 73.1,470.0 73.3,466.3 73.5,466.5 73.7,469.5 73.9,467.4 74.1,470.2 74.3,469.7 74.5,470.5 74.7,469.9 74.9,469.2 75.1,472.3 75.3,471.0 75.5,468.3 75.7,468.1 75.9,470.4 76.1,468.7 76.3,469.6 76.5,471.1 76.7,468.8 76.9,471.3 77.1,470.4 77.3,469.7 77.5,467.7 77.7,468.4 77.9,470.1 78.1,471.0 78.3,467.1 78.5,467.3 78.7,470.1 78.9,470.4 79.1,466.7 79.3,469.8 79.5,469.3 79.7,469.6 79.9,468.0 80.1,468.2 80.3,467.8 80.5,469.7 80.7,466.7 80.9,466.5 81.1,469.6 81.3,469.6 81.5,470.2 81.7,468.7 81.9,465.7 82.1,466.0 82.3,468.0 82.5,469.1 82.7,470.0 82.9,469.1 83.1,470.3 83.3,466.4 83.5,466.8 83.7,467.9 83.9,467.2 84.1,467.8 84.3,467.1 84.5,468.4 84.7,466.3 84.9,468.9 85.1,470.8 85.3,468.8 85.5,469.0 85.7,468.9 85.9,470.5 86.1,469.3 86.3,469.3 86.5,467.1 86.7,469.7 86.9,465.7 87.1,467.0 87.3,468.5 87.5,467.4 87.7,469.9 87.9,469.5 88.1,466.7 88.3,466.5 88.5,465.7 88.7,469.7 88.9,467.7 89.1,467.7 89.3,466.7 89.5,465.3 89.7,466.2 89.9,465.2 90.1,466.0 90.3,464.1 90.5,465.5 90.7,467.1 90.9,464.3 91.1,466.1 91.3,461.7 91.5,463.2 91.7,463.1 91.9,464.0 92.1,463.4 92.3,461.0 92.5,460.8 92.7,460.2 92.9,457.8 93.1,457.1 93.3,455.5 93.5,451.9 93.7,451.0 93.9,447.2 94.1,447.0 94.3,447.8 94.5,445.6 94.7,443.8 94.9,443.2 95.1,444.2 95.3,444.7 95.5,445.5 95.7,447.1 95.9,446.8 96.1,451.5 96.3,450.7 96.5,452.7 96.7,454.5 96.9,453.1 97.1,454.1 97.3,454.8 97.5,460.1 97.7,457.0 97.9,459.6 98.1,462.2 98.3,461.6 98.5,459.3 98.7,463.8 98.9,462.2 99.1,461.8 99.3,463.6 99.5,465.0 99.7,463.1 99.9,466.1 100.1,466.1 100.3,464.8 100.5,466.4 100.7,465.4 100.9,465.2 101.1,468.1 101.3,467.8 101.5,469.9 101.7,467.0 101.9,467.6 102.1,469.1 102.3,466.5 102.5,468.0 102.7,469.4 102.9,467.2 103.1,468.1 103.3,469.4 103.5,468.8 103.7,471.4 103.9,471.8 104.1,471.8 104.3,470.1 104.5,468.4 104.7,470.6 104.9,469.9 105.1,469.8 105.3,470.4 105.5,471.5 105.7,470.7 105.9,467.3 106.1,470.7 106.3,469.4 106.5,468.7 106.7,470.7 106.9,469.1 107.1,469.5 107.3,469.6 107.5,467.6 107.7,468.4 107.9,468.7 108.1,466.5 108.3,469.6 108.5,467.6 108.7,468.4 108.9,470.4 109.1,469.8 109.3,466.9 109.5,467.9 109.7,468.7 109.9,467.6 110.1,470.6 110.3,468.3 110.5,467.3 110.7,469.1 110.9,469.0 111.1,467.3 111.3,469.4 111.5,470.2 111.7,467.4 111.9,470.2 112.1,469.0 112.3,470.3 112.5,468.7 112.7,471.0 112.9,473.2 113.1,470.4 113.3,470.1 113.5,474.0 113.7,474.2 113.9,472.1 114.1,474.0 114.3,474.5 114.5,474.0 114.7,475.2 114.9,472.1 115.1,475.1 115.3,473.2 115.5,472.1 115.7,473.1 115.9,474.7 116.1,472.7 116.3,470.7 116.5,471.5 116.7,471.3 116.9,472.5 117.1,474.1 117.3,472.2 117.5,471.3 117.7,474.1 117.9,471.3 118.1,470.7 118.3,473.1 118.5,472.2 118.7,472.5 118.9,471.1 119.1,472.5 119.3,473.1 119.5,475.0 119.7,470.8 119.9,472.9 120.1,472.9 120.3,474.3 120.5,474.2 120.7,472.4 120.9,472.8 121.1,472.4 121.3,473.6 121.5,474.1 121.7,471.4 121.9,472.8 122.1,472.2 122.3,470.4 122.5,473.1 122.7,473.0 122.9,472.0 123.1,472.8 123.3,474.3 123.5,472.1 123.7,472.1 123.9,471.3 124.1,473.8 124.3,473.9 124.5,471.3 124.7,471.2 124.9,472.8 125.1,470.6 125.3,470.0 125.5,471.4 125.7,473.4 125.9,472.4 126.1,472.7 126.3,472.7 126.5,472.5 126.7,474.1 126.9,473.7 127.1,474.8 127.3,473.5 127.5,473.8 127.7,473.3 127.9,474.5 128.1,471.6 128.3,472.2 128.5,470.3 128.7,470.7 128.9,474.5 129.1,471.9 129.3,470.1 129.5,470.4 129.7,472.0 129.9,472.5 130.1,472.9 130.3,471.9 130.5,470.9 130.7,472.4 130.9,469.8 131.1,470.8 131.3,469.9 131.5,471.8 131.7,471.4 131.9,470.9 132.1,470.1 132.3,472.8 132.5,470.8 132.7,472.9 132.9,470.8 133.1,472.2 133.3,472.8 133.5,470.7 133.7,470.0 133.9,472.3 134.1,469.3 134.3,470.4 134.5,468.6 134.7,472.7 134.9,471.2 135.1,468.3 135.3,470.3 135.5,469.3 135.7,466.4 135.9,466.9 136.1,467.6 136.3,467.3 136.5,464.7 136.7,462.8 136.9,463.9 137.1,464.4 137.3,462.5 137.5,459.5 137.7,458.7 137.9,459.0 138.1,456.1 138.3,455.5 138.5,450.7 138.7,449.8 138.9,446.4 139.1,442.3 139.3,435.1 139.5,433.1 139.7,426.3 139.9,419.5 140.1,414.2 140.3,413.4 140.5,413.3 140.7,413.0 140.9,414.7 141.1,418.9 141.3,423.8 141.5,431.5 141.7,434.0 141.9,438.9 142.1,443.8 142.3,446.8 142.5,450.1 142.7,454.7 142.9,457.6 143.1,457.5 143.3,460.2 143.5,463.6 143.7,464.7 143.9,464.5 144.1,467.6 144.3,468.1 144.5,466.7 144.7,466.2 144.9,469.5 145.1,470.4 145.3,470.0 145.5,471.2 145.7,467.8 145.9,471.1 146.1,472.4 146.3,470.2 146.5,469.8 146.7,473.0 146.9,472.3 147.1,470.9 147.3,472.5 147.5,470.6 147.7,471.7 147.9,473.2 148.1,473.4 148.3,474.3 148.5,473.7 148.7,474.7 148.9,472.7 149.1,474.5 149.3,475.4 149.5,475.0 149.7,473.9 149.9,474.7 150.1,472.4 150.3,472.1 150.5,473.8 150.7,473.6 150.9,470.7 151.1,472.3 151.3,473.8 151.5,471.5 151.7,471.9 151.9,473.1 152.1,472.7 152.3,473.8 152.5,474.7 152.7,474.0 152.9,472.8 153.1,477.0 153.3,473.8 153.5,472.7 153.7,474.8 153.9,476.5 154.1,477.0 154.3,473.1 154.5,472.9 154.7,476.8 154.9,476.5 155.1,476.8 155.3,476.7 155.5,476.8 155.7,476.3 155.9,473.2 156.1,473.5 156.3,473.1 156.5,472.8 156.7,476.7 156.9,476.9 157.1,474.9 157.3,472.5 157.5,472.8 157.7,476.7 157.9,476.9 158.1,475.4 158.3,476.0 158.5,476.0 158.7,476.4 158.9,476.9 159.1,474.0 159.3,472.2 159.5,472.4 159.7,474.9 159.9,472.2 160.1,472.4 160.3,475.7 160.5,475.9 160.7,472.1 160.9,472.9 161.1,476.8 161.3,477.2 161.5,475.5 161.7,474.6 161.9,475.7 162.1,474.3 162.3,476.5 162.5,475.3 162.7,474.9 162.9,473.1 163.1,475.9 163.3,473.2 163.5,473.7 163.7,477.1 163.9,475.7 164.1,476.0 164.3,476.8 164.5,477.3 164.7,477.9 164.9,473.8 165.1,473.2 165.3,473.1 165.5,476.7 165.7,474.4 165.9,474.6 166.1,475.2 166.3,472.9 166.5,474.5 166.7,474.3 166.9,475.7 167.1,473.1 167.3,476.9 167.5,472.6 167.7,472.6 167.9,472.4 168.1,476.4 168.3,473.7 168.5,475.2 168.7,474.8 168.9,473.9 169.1,474.3 169.3,476.3 169.5,473.9 169.7,473.7 169.9,475.3 170.1,474.5 170.3,473.1 170.5,473.6 170.7,475.6 170.9,477.5 171.1,476.6 171.3,474.6 171.5,475.8 171.7,477.3 171.9,474.7 172.1,475.3 172.3,474.7 172.5,476.4 172.7,476.7 172.9,478.3 173.1,474.3 173.3,474.5 173.5,474.9 173.7,475.6 173.9,475.1 174.1,478.8 174.3,475.8 174.5,478.4 174.7,478.6 174.9,475.5 175.1,474.5 175.3,477.7 175.5,473.8 175.7,474.7 175.9,475.0 176.1,473.8 176.3,476.9 176.5,473.8 176.7,474.8 176.9,475.9 177.1,476.7 177.3,474.0 177.5,475.9 177.7,476.1 177.9,473.3 178.1,475.2 178.3,474.5 178.5,473.4 178.7,476.0 178.9,473.9 179.1,476.6 179.3,476.1 179.5,477.9 179.7,476.5 179.9,477.3 180.1,475.2 180.3,475.5 180.5,475.9 180.7,476.0 180.9,474.6 181.1,473.4 181.3,475.9 181.5,475.8 181.7,476.5 181.9,475.6 182.1,476.7 182.3,474.2 182.5,474.7 182.7,474.7 182.9,474.7 183.1,474.3 183.3,475.7 183.5,476.2 183.7,474.9 183.9,476.1 184.1,474.9 184.3,475.4 184.5,475.2 184.7,473.6 184.9,476.4 185.1,473.7 185.3,473.8 185.5,475.3 185.7,475.2 185.9,476.1 186.1,472.8 186.3,472.4 186.5,474.7 186.7,474.0 186.9,474.0 187.1,471.3 187.3,474.1 187.5,470.6 187.7,471.1 187.9,471.3 188.1,470.7 188.3,470.4 188.5,472.7 188.7,474.1 188.9,471.6 189.1,471.0 189.3,471.8 189.5,471.9 189.7,473.4 189.9,473.0 190.1,473.6 190.3,475.4 190.5,472.5 190.7,474.5 190.9,474.4 191.1,475.5 191.3,473.9 191.5,475.8 191.7,474.0 191.9,475.7 192.1,472.8 192.3,475.3 192.5,474.2 192.7,472.7 192.9,474.2 193.1,471.4 193.3,473.9 193.5,474.0 193.7,473.2 193.9,473.5 194.1,475.0 194.3,474.6 194.5,472.4 194.7,473.0 194.9,477.0 195.1,475.2 195.3,476.1 195.5,475.4 195.7,475.8 195.9,477.5 196.1,475.9 196.3,474.5 196.5,476.3 196.7,474.4 196.9,478.2 197.1,477.5 197.3,476.6 197.5,474.3 197.7,475.4 197.9,477.2 198.1,476.1 198.3,474.9 198.5,473.7 198.7,473.4 198.9,472.5 199.1,474.8 199.3,475.3 199.5,472.6 199.7,474.2 199.9,473.6 200.1,472.0 200.3,474.1 200.5,476.1 200.7,475.0 200.9,474.5 201.1,472.6 201.3,473.6 201.5,475.5 201.7,475.5 201.9,474.0 202.1,473.6 202.3,476.1 202.5,473.0 202.7,474.8 202.9,475.6 203.1,474.7 203.3,472.6 203.5,473.1 203.7,472.9 203.9,474.0 204.1,472.7 204.3,474.9 204.5,472.1 204.7,473.7 204.9,475.5 205.1,476.4 205.3,473.4 205.5,472.7 205.7,472.3 205.9,475.6 206.1,472.1 206.3,476.6 206.5,473.6 206.7,476.1 206.9,475.5 207.1,474.2 207.3,474.1 207.5,475.9 207.7,477.0 207.9,474.5 208.1,476.3 208.3,475.1 208.5,473.3 208.7,473.3 208.9,472.8 209.1,472.7 209.3,473.8 209.5,475.9 209.7,476.5 209.9,473.9 210.1,475.7 210.3,476.0 210.5,472.9 210.7,474.4 210.9,475.9 211.1,474.5 211.3,474.9 211.5,472.1 211.7,473.4 211.9,472.8 212.1,475.1 212.3,472.2 212.5,474.8 212.7,473.8 212.9,473.9 213.1,474.6 213.3,473.7 213.5,472.5 213.7,470.4 213.9,470.6 214.1,469.1 214.3,469.1 214.5,470.5 214.7,469.0 214.9,471.2 215.1,467.9 215.3,470.0 215.5,467.1 215.7,470.0 215.9,467.7 216.1,468.6 216.3,467.4 216.5,466.8 216.7,464.9 216.9,463.5 217.1,460.8 217.3,460.6 217.5,457.8 217.7,457.7 217.9,454.5 218.1,451.9 218.3,449.1 218.5,447.8 218.7,445.5 218.9,447.0 219.1,446.8 219.3,447.5 219.5,446.7 219.7,449.4 219.9,447.1 220.1,448.7 220.3,450.6 220.5,450.3 220.7,454.4 220.9,454.4 221.1,455.0 221.3,457.7 221.5,459.7 221.7,456.8 221.9,459.7 222.1,459.5 222.3,462.3 222.5,459.7 222.7,458.9 222.9,462.8 223.1,461.8 223.3,462.4 223.5,463.1 223.7,462.2 223.9,464.1 224.1,465.6 224.3,464.8 224.5,465.2 224.7,464.6 224.9,466.3 225.1,463.3 225.3,464.5 225.5,462.9 225.7,465.6 225.9,467.2 226.1,467.1 226.3,466.7 226.5,466.8 226.7,468.5 226.9,466.8 227.1,468.0 227.3,468.7 227.5,469.7 227.7,472.5 227.9,473.2 228.1,472.2 228.3,472.8 228.5,470.9 228.7,472.2 228.9,473.1 229.1,473.7 229.3,472.7 229.5,472.8 229.7,473.2 229.9,472.1 230.1,472.8 230.3,471.9 230.5,473.1 230.7,473.5 230.9,474.2 231.1,473.8 231.3,470.3 231.5,473.3 231.7,471.3 231.9,475.2 232.1,474.0 232.3,472.5 232.5,474.3 232.7,475.8 232.9,475.5 233.1,475.7 233.3,474.7 233.5,474.6 233.7,471.8 233.9,472.5 234.1,471.2 234.3,472.8 234.5,471.7 234.7,470.8 234.9,473.3 235.1,474.5 235.3,472.0 235.5,475.4 235.7,473.2 235.9,475.8 236.1,475.5 236.3,475.4 236.5,475.0 236.7,476.8 236.9,475.2 237.1,475.5 237.3,475.9 237.5,472.5 237.7,472.9 237.9,474.7 238.1,472.6 238.3,472.7 238.5,476.7 238.7,476.7 238.9,476.8 239.1,474.7 239.3,476.0 239.5,475.9 239.7,473.0 239.9,473.3 240.1,473.4 240.3,474.4 240.5,473.5 240.7,472.9 240.9,474.6 241.1,475.8 241.3,472.9 241.5,475.2 241.7,475.1 241.9,477.6 242.1,476.7 242.3,477.5 242.5,476.9 242.7,476.4 242.9,474.2 243.1,476.0 243.3,474.2 243.5,478.0 243.7,476.0 243.9,473.8 244.1,474.6 244.3,475.2 244.5,476.2 244.7,473.8 244.9,476.2 245.1,473.0 245.3,475.7 245.5,474.6 245.7,473.4 245.9,474.6 246.1,473.8 246.3,476.3 246.5,474.1 246.7,475.1 246.9,473.7 247.1,475.9 247.3,474.0 247.5,474.0 247.7,475.4 247.9,471.9 248.1,473.2 248.3,474.9 248.5,474.3 248.7,474.7 248.9,476.0 249.1,473.2 249.3,473.2 249.5,475.9 249.7,474.1 249.9,472.6 250.1,476.9 250.3,476.7 250.5,475.2 250.7,475.5 250.9,478.4 251.1,475.2 251.3,474.9 251.5,477.0 251.7,475.2 251.9,474.7 252.1,476.4 252.3,473.5 252.5,477.0 252.7,474.0 252.9,474.4 253.1,477.2 253.3,475.6 253.5,472.6 253.7,476.2 253.9,473.7 254.1,473.2 254.3,474.0 254.5,475.5 254.7,476.4 254.9,475.3 255.1,475.1 255.3,475.4 255.5,476.5 255.7,474.8 255.9,473.1 256.1,473.4 256.3,476.3 256.5,476.5 256.7,475.2 256.9,474.6 257.1,475.5 257.3,476.0 257.5,476.0 257.7,475.6 257.9,475.9 258.1,474.0 258.3,476.2 258.5,476.2 258.7,475.1 258.9,473.2 259.1,474.4 259.3,474.5 259.5,473.0 259.7,474.5 259.9,472.7 260.1,474.1 260.3,473.7 260.5,475.1 260.7,473.4 260.9,473.8 261.1,477.5 261.3,474.6 261.5,475.7 261.7,473.6 261.9,472.6 262.1,475.1 262.3,473.4 262.5,473.7 262.7,471.4 262.9,471.9 263.1,473.1 263.3,473.5 263.5,473.3 263.7,475.8 263.9,473.2 264.1,475.1 264.3,474.4 264.5,474.5 264.7,475.9 264.9,476.1 265.1,475.4 265.3,472.7 265.5,473.4 265.7,474.4 265.9,474.4 266.1,476.5 266.3,474.9 266.5,475.9 266.7,474.7 266.9,472.3 267.1,473.1 267.3,473.5 267.5,472.4 267.7,473.4 267.9,474.3 268.1,475.2 268.3,474.7 268.5,475.0 268.7,475.1 268.9,471.8 269.1,475.9 269.3,474.6 269.5,474.9 269.7,474.0 269.9,473.4 270.1,474.5 270.3,476.4 270.5,474.5 270.7,476.6 270.9,476.4 271.1,475.7 271.3,474.1 271.5,473.8 271.7,475.3 271.9,473.9 272.1,472.2 272.3,476.1 272.5,473.9 272.7,475.9 272.9,476.9 273.1,477.0 273.3,478.0 273.5,476.7 273.7,478.4 273.9,475.0 274.1,477.3 274.3,477.2 274.5,477.6 274.7,475.7 274.9,477.7 275.1,478.2 275.3,478.3 275.5,475.3 275.7,478.0 275.9,474.9 276.1,473.6 276.3,475.7 276.5,472.9 276.7,473.8 276.9,474.0 277.1,474.4 277.3,476.5 277.5,473.8 277.7,477.8 277.9,477.0 278.1,477.8 278.3,476.1 278.5,477.4 278.7,475.8 278.9,477.0 279.1,475.0 279.3,477.3 279.5,476.8 279.7,474.0 279.9,472.7 280.1,476.4 280.3,473.3 280.5,475.8 280.7,476.7 280.9,472.3 281.1,474.6 281.3,472.0 281.5,474.4 281.7,476.6 281.9,473.9 282.1,474.0 282.3,476.3 282.5,475.9 282.7,475.5 282.9,474.8 283.1,473.4 283.3,473.8 283.5,475.1 283.7,475.6 283.9,472.8 284.1,472.8 284.3,473.7 284.5,472.4 284.7,473.4 284.9,475.9 285.1,473.2 285.3,473.5 285.5,475.9 285.7,473.0 285.9,475.3 286.1,472.4 286.3,471.8 286.5,473.0 286.7,470.9 286.9,472.4 287.1,473.0 287.3,474.7 287.5,473.6 287.7,472.3 287.9,472.4 288.1,472.4 288.3,471.5 288.5,471.3 288.7,471.0 288.9,473.5 289.1,474.3 289.3,471.9 289.5,471.7 289.7,473.0 289.9,471.1 290.1,472.6 290.3,472.0 290.5,473.5 290.7,475.1 290.9,475.4 291.1,471.5 291.3,472.4 291.5,472.0 291.7,475.1 291.9,474.6 292.1,472.2 292.3,471.1 292.5,472.2 292.7,471.9 292.9,474.0 293.1,474.9 293.3,471.9 293.5,474.3 293.7,472.3 293.9,473.0 294.1,471.7 294.3,474.8 294.5,472.9 294.7,474.7 294.9,473.5 295.1,476.3 295.3,473.6 295.5,475.3 295.7,475.3 295.9,474.1 296.1,473.0 296.3,473.5 296.5,474.7 296.7,472.9 296.9,476.4 297.1,475.7 297.3,473.5 297.5,472.7 297.7,474.6 297.9,473.0 298.1,477.0 298.3,473.2 298.5,474.5 298.7,474.4 298.9,474.7 299.1,474.4 299.3,474.4 299.5,474.1 299.7,473.2 299.9,474.0 300.1,476.9 300.3,473.8 300.5,475.3 300.7,476.0 300.9,472.3 301.1,472.3 301.3,474.8 301.5,473.5 301.7,474.2 301.9,473.2 302.1,473.3 302.3,476.0 302.5,475.8 302.7,473.3 302.9,474.6 303.1,476.2 303.3,476.4 303.5,474.7 303.7,475.9 303.9,474.0 304.1,473.1 304.3,474.8 304.5,473.9 304.7,472.0 304.9,474.2 305.1,473.4 305.3,473.9 305.5,473.0 305.7,474.5 305.9,471.3 306.1,473.3 306.3,473.0 306.5,473.5 306.7,473.7 306.9,472.9 307.1,473.0 307.3,473.8 307.5,472.5 307.7,474.1 307.9,474.2 308.1,472.2 308.3,473.2 308.5,471.8 308.7,472.3 308.9,472.9 309.1,469.9 309.3,469.0 309.5,469.0 309.7,470.7 309.9,467.5 310.1,467.8 310.3,468.6 310.5,463.9 310.7,464.7 310.9,464.7 311.1,462.5 311.3,465.3 311.5,461.9 311.7,462.8 311.9,463.0 312.1,462.7 312.3,463.9 312.5,463.1 312.7,462.6 312.9,461.8 313.1,464.1 313.3,462.4 313.5,461.3 313.7,462.1 313.9,464.5 314.1,463.2 314.3,464.4 314.5,467.1 314.7,464.4 314.9,465.1 315.1,468.2 315.3,468.3 315.5,468.8 315.7,466.2 315.9,466.9 316.1,467.4 316.3,469.7 316.5,466.7 316.7,468.5 316.9,467.7 317.1,468.2 317.3,468.1 317.5,469.7 317.7,468.6 317.9,470.1 318.1,471.1 318.3,470.3 318.5,470.3 318.7,469.3 318.9,472.8 319.1,469.6 319.3,472.0 319.5,471.5 319.7,470.4 319.9,470.2 320.1,471.3 320.3,470.7 320.5,472.1 320.7,472.1 320.9,471.7 321.1,473.4 321.3,471.4 321.5,472.3 321.7,473.6 321.9,474.7 322.1,473.6 322.3,473.5 322.5,471.4 322.7,473.9 322.9,470.8 323.1,472.1 323.3,473.0 323.5,474.1 323.7,474.4 323.9,471.3 324.1,471.5 324.3,472.5 324.5,473.3 324.7,475.2 324.9,474.7 325.1,473.4 325.3,475.0 325.5,472.7 325.7,473.0 325.9,475.3 326.1,471.4 326.3,472.3 326.5,475.6 326.7,474.4 326.9,473.8 327.1,474.5 327.3,473.0 327.5,474.0 327.7,473.5 327.9,473.7 328.1,476.1 328.3,474.2 328.5,475.4 328.7,474.2 328.9,474.6 329.1,472.7 329.3,475.3 329.5,471.9 329.7,473.7 329.9,473.7 330.1,471.1 330.3,473.4 330.5,473.3 330.7,473.9 330.9,473.2 331.1,474.1 331.3,473.9 331.5,471.7 331.7,474.2 331.9,474.1 332.1,474.2 332.3,475.4 332.5,473.9 332.7,474.0 332.9,474.8 333.1,472.8 333.3,475.1 333.5,471.5 333.7,472.1 333.9,473.9 334.1,472.8 334.3,472.5 334.5,473.1 334.7,471.3 334.9,472.4 335.1,471.1 335.3,472.5 335.5,469.9 335.7,468.9 335.9,471.0 336.1,469.0 336.3,468.9 336.5,470.0 336.7,468.4 336.9,468.8 337.1,468.9 337.3,469.2 337.5,467.0 337.7,465.1 337.9,463.8 338.1,463.5 338.3,463.6 338.5,463.1 338.7,462.0 338.9,461.3 339.1,465.5 339.3,465.0 339.5,464.1 339.7,466.2 339.9,466.0 340.1,467.6 340.3,469.1 340.5,469.2 340.7,470.0 340.9,469.0 341.1,469.0 341.3,472.7 341.5,472.2 341.7,473.1 341.9,471.9 342.1,473.1 342.3,471.2 342.5,472.9 342.7,474.1 342.9,475.0 343.1,473.3 343.3,473.4 343.5,472.7 343.7,475.2 343.9,475.0 344.1,475.0 344.3,472.8 344.5,473.2 344.7,471.1 344.9,472.1 345.1,473.5 345.3,472.5 345.5,473.8 345.7,474.2 345.9,473.7 346.1,475.0 346.3,472.1 346.5,473.2 346.7,475.3 346.9,472.8 347.1,474.2 347.3,475.0 347.5,476.4 347.7,476.1 347.9,475.9 348.1,476.0 348.3,476.7 348.5,473.8 348.7,475.3 348.9,473.6 349.1,474.1 349.3,472.4 349.5,474.5 349.7,475.6 349.9,474.4 350.1,474.9 350.3,474.2 350.5,473.7 350.7,473.8 350.9,474.5 351.1,473.7 351.3,474.1 351.5,475.3 351.7,475.3 351.9,475.5 352.1,477.0 352.3,474.4 352.5,476.4 352.7,476.1 352.9,476.9 353.1,477.3 353.3,474.8 353.5,475.4 353.7,474.9 353.9,473.3 354.1,472.3 354.3,472.9 354.5,474.8 354.7,471.5 354.9,471.9 355.1,472.3 355.3,472.3 355.5,474.7 355.7,473.5 355.9,473.2 356.1,472.6 356.3,473.9 356.5,475.2 356.7,473.1 356.9,475.4 357.1,476.1 357.3,473.4 357.5,475.3 357.7,474.7 357.9,472.6 358.1,472.8 358.3,472.5 358.5,473.8 358.7,473.1 358.9,473.3 359.1,472.2 359.3,472.6 359.5,473.0 359.7,472.6 359.9,474.5 360.1,473.7 360.3,474.6 360.5,476.0 360.7,473.6 360.9,474.5 361.1,474.6 361.3,475.7 361.5,476.2 361.7,476.0 361.9,475.7 362.1,475.7 362.3,476.4 362.5,474.3 362.7,475.3 362.9,474.3 363.1,473.5 363.3,473.4 363.5,473.8 363.7,472.4 363.9,474.2 364.1,473.1 364.3,474.3 364.5,472.9 364.7,472.2 364.9,474.0 365.1,472.2 365.3,473.7 365.5,471.4 365.7,471.0 365.9,472.5 366.1,473.2 366.3,473.2 366.5,473.4 366.7,474.0 366.9,472.7 367.1,473.6 367.3,473.8 367.5,475.6 367.7,474.4 367.9,474.1 368.1,473.1 368.3,475.7 368.5,475.6 368.7,475.7 368.9,474.5 369.1,476.9 369.3,475.9 369.5,474.3 369.7,474.8 369.9,474.4 370.1,476.8 370.3,475.8 370.5,476.0 370.7,473.5 370.9,473.7 371.1,475.3 371.3,473.1 371.5,472.3 371.7,474.6 371.9,472.2 372.1,473.9 372.3,475.4 372.5,472.7 372.7,473.3 372.9,473.0 373.1,471.4 373.3,472.4 373.5,475.4 373.7,475.7 373.9,472.3 374.1,474.6 374.3,475.5 374.5,473.6 374.7,474.8 374.9,474.8 375.1,476.0 375.3,475.7 375.5,474.6 375.7,473.7 375.9,473.5 376.1,473.2 376.3,472.7 376.5,475.7 376.7,475.4 376.9,473.1 377.1,473.3 377.3,472.2 377.5,473.0 377.7,472.7 377.9,473.6 378.1,472.7 378.3,473.5 378.5,471.3 378.7,474.2 378.9,474.3 379.1,472.2 379.3,472.5 379.5,472.9 379.7,472.9 379.9,472.4 380.1,470.7 380.3,470.5 380.5,472.0 380.7,472.9 380.9,470.0 381.1,470.7 381.3,472.0 381.5,472.2 381.7,472.2 381.9,470.7 382.1,473.0 382.3,471.3 382.5,472.9 382.7,471.8 382.9,472.6 383.1,474.2 383.3,471.8 383.5,474.1 383.7,472.8 383.9,473.6 384.1,471.4 384.3,474.0 384.5,473.2 384.7,472.5 384.9,473.6 385.1,473.0 385.3,471.4 385.5,472.4 385.7,471.7 385.9,472.4 386.1,473.2 386.3,472.7 386.5,472.4 386.7,473.2 386.9,471.0 387.1,474.3 387.3,473.3 387.5,472.7 387.7,472.0 387.9,471.3 388.1,471.5 388.3,470.3 388.5,471.5 388.7,470.5 388.9,469.7 389.1,472.0 389.3,472.4 389.5,472.7 389.7,470.7 389.9,472.5 390.1,473.0 390.3,473.4 390.5,471.0 390.7,473.2 390.9,471.4 391.1,472.2 391.3,474.0 391.5,473.6 391.7,473.8 391.9,473.3 392.1,471.4 392.3,472.6 392.5,472.0 392.7,470.7 392.9,471.1 393.1,469.6 393.3,468.3 393.5,469.6 393.7,468.1 393.9,467.7 394.1,468.1 394.3,470.1 394.5,468.4 394.7,467.1 394.9,468.0 395.1,469.5 395.3,468.9 395.5,466.9 395.7,469.7 395.9,467.1 396.1,468.7 396.3,469.4 396.5,467.1 396.7,466.6 396.9,469.5 397.1,469.5 397.3,468.4 397.5,470.5 397.7,468.5 397.9,469.0 398.1,468.6 398.3,469.0 398.5,469.0 398.7,471.6 398.9,471.7 399.1,471.7 399.3,470.9 399.5,472.3 399.7,471.7 399.9,470.5 400.1,471.1 400.3,470.6 400.5,472.3 400.7,472.0 400.9,469.7 401.1,471.0 401.3,470.8 401.5,470.7 401.7,469.8 401.9,471.3 402.1,471.1 402.3,470.7 402.5,471.1 402.7,468.6 402.9,471.8 403.1,471.6 403.3,470.1 403.5,470.0 403.7,472.9 403.9,470.0 404.1,472.0 404.3,469.5 404.5,471.7 404.7,471.8 404.9,471.5 405.1,471.5 405.3,474.7 405.5,474.8 405.7,474.4 405.9,472.4 406.1,474.1 406.3,473.4 406.5,473.1 406.7,474.2 406.9,472.9 407.1,473.3 407.3,473.4 407.5,473.0 407.7,472.4 407.9,473.5 408.1,472.7 408.3,473.3 408.5,472.7 408.7,475.2 408.9,473.3 409.1,474.2 409.3,472.6 409.5,472.8 409.7,471.6 409.9,473.7 410.1,470.5 410.3,470.6 410.5,471.5 410.7,470.5 410.9,472.4 411.1,471.6 411.3,470.9 411.5,472.5 411.7,473.7 411.9,471.6 412.1,471.8 412.3,471.5 412.5,472.3 412.7,472.5 412.9,472.0 413.1,472.2 413.3,472.6 413.5,471.8 413.7,469.9 413.9,470.4 414.1,469.1 414.3,467.6 414.5,468.0 414.7,466.9 414.9,464.1 415.1,465.7 415.3,465.3 415.5,462.4 415.7,460.4 415.9,460.3 416.1,460.2 416.3,459.1 416.5,460.7 416.7,460.6 416.9,460.8 417.1,463.8 417.3,461.6 417.5,465.2 417.7,465.7 417.9,465.6 418.1,467.5 418.3,470.6 418.5,468.2 418.7,470.9 418.9,471.8 419.1,469.7 419.3,469.2 419.5,470.0 419.7,470.1 419.9,472.7 420.1,470.5 420.3,472.0 420.5,473.2 420.7,472.0 420.9,474.2 421.1,471.6 421.3,473.7 421.5,472.3 421.7,472.9 421.9,472.3 422.1,471.6 422.3,471.4 422.5,470.7 422.7,471.6 422.9,471.6 423.1,470.6 423.3,472.3 423.5,472.1 423.7,473.2 423.9,473.6 424.1,474.0 424.3,472.4 424.5,473.6 424.7,474.0 424.9,473.9 425.1,472.8 425.3,471.7 425.5,471.5 425.7,471.4 425.9,473.2 426.1,471.2 426.3,472.1 426.5,472.1 426.7,471.6 426.9,472.4 427.1,471.8 427.3,474.2 427.5,473.2 427.7,475.0 427.9,473.9 428.1,472.5 428.3,472.0 428.5,474.3 428.7,472.0 428.9,471.9 429.1,471.8 429.3,472.3 429.5,474.4 429.7,473.3 429.9,472.4 430.1,474.2 430.3,473.4 430.5,472.8 430.7,472.9 430.9,471.6 431.1,472.2 431.3,473.5 431.5,475.4 431.7,473.7 431.9,475.5 432.1,472.8 432.3,474.3 432.5,475.2 432.7,473.6 432.9,475.4 433.1,473.7 433.3,473.7 433.5,473.2 433.7,474.4 433.9,475.0 434.1,476.3 434.3,473.4 434.5,475.4 434.7,473.9 434.9,474.4 435.1,475.6 435.3,474.8 435.5,473.1 435.7,473.8 435.9,472.0 436.1,474.7 436.3,472.1 436.5,474.4 436.7,473.4 436.9,473.3 437.1,472.8 437.3,473.2 437.5,475.2 437.7,472.6 437.9,474.5 438.1,472.9 438.3,472.9 438.5,472.5 438.7,474.5 438.9,474.7 439.1,471.1 439.3,472.1 439.5,472.0 439.7,474.4 439.9,473.1 440.1,472.5 440.3,473.8 440.5,473.3 440.7,474.3 440.9,473.4 441.1,474.3 441.3,472.9 441.5,472.4 441.7,473.4 441.9,472.2 442.1,471.2 442.3,473.0 442.5,472.0 442.7,472.6 442.9,469.9 443.1,472.9 443.3,472.2 443.5,471.0 443.7,472.5 443.9,473.0 444.1,472.7 444.3,470.3 444.5,472.0 444.7,471.3 444.9,473.0 445.1,472.0 445.3,472.1 445.5,470.5 445.7,473.0 445.9,472.4 446.1,472.4 446.3,471.7 446.5,470.8 446.7,471.7 446.9,470.7 447.1,471.3 447.3,469.9 447.5,470.6 447.7,473.2 447.9,472.3 448.1,471.9 448.3,472.4 448.5,473.6 448.7,473.1 448.9,474.1 449.1,471.4 449.3,472.1 449.5,472.6 449.7,472.1 449.9,471.1 450.1,471.8 450.3,471.8 450.5,471.8 450.7,472.8 450.9,473.5 451.1,473.2 451.3,472.6 451.5,473.1 451.7,470.7 451.9,473.6 452.1,471.3 452.3,473.1 452.5,470.2 452.7,469.4 452.9,470.3 453.1,471.6 453.3,471.6 453.5,469.7 453.7,471.7 453.9,471.3 454.1,472.5 454.3,471.4 454.5,470.3 454.7,472.5 454.9,472.8 455.1,472.8 455.3,471.0 455.5,469.9 455.7,472.5 455.9,472.5 456.1,472.9 456.3,473.4 456.5,472.8 456.7,474.1 456.9,472.9 457.1,471.1 457.3,471.5 457.5,472.6 457.7,470.6 457.9,472.3 458.1,469.8 458.3,471.7 458.5,470.9 458.7,471.2 458.9,469.7 459.1,469.9 459.3,471.2 459.5,470.3 459.7,471.7 459.9,470.9 460.1,472.0 460.3,470.6 460.5,470.0 460.7,470.5 460.9,471.9 461.1,471.4 461.3,470.0 461.5,470.1 461.7,471.6 461.9,470.5 462.1,471.5 462.3,472.9 462.5,470.4 462.7,472.7 462.9,472.1 463.1,471.8 463.3,471.7 463.5,469.8 463.7,468.3 463.9,469.7 464.1,468.7 464.3,468.2 464.5,469.5 464.7,467.7 464.9,469.2 465.1,466.6 465.3,466.9 465.5,469.2 465.7,467.0 465.9,467.5 466.1,467.5 466.3,469.0 466.5,469.5 466.7,469.0 466.9,468.4 467.1,469.5 467.3,469.6 467.5,469.0 467.7,467.5 467.9,469.9 468.1,469.6 468.3,469.0 468.5,470.2 468.7,468.4 468.9,468.8 469.1,469.3 469.3,470.4 469.5,468.4 469.7,469.1 469.9,469.0 470.1,468.6 470.3,471.2 470.5,469.8 470.7,470.7 470.9,470.7 471.1,471.3 471.3,472.0 471.5,471.2 471.7,471.9 471.9,473.6 472.1,472.7 472.3,473.2 472.5,472.8 472.7,471.3 472.9,470.8 473.1,470.8 473.3,471.9 473.5,473.0 473.7,471.5 473.9,471.9 474.1,471.3 474.3,471.4 474.5,473.6 474.7,473.6 474.9,471.4 475.1,472.7 475.3,473.9 475.5,472.0 475.7,473.2 475.9,475.3 476.1,472.6 476.3,474.1 476.5,472.5 476.7,473.9 476.9,474.0 477.1,472.4 477.3,472.3 477.5,472.6 477.7,471.0 477.9,471.8 478.1,471.5 478.3,472.3 478.5,472.8 478.7,472.5 478.9,472.0 479.1,472.4 479.3,472.9 479.5,471.2 479.7,473.1 479.9,472.9 480.1,470.7 480.3,471.2 480.5,471.7 480.7,471.4 480.9,470.0 481.1,472.7 481.3,472.5 481.5,470.7 481.7,472.0 481.9,472.6 482.1,470.2 482.3,471.7 482.5,471.8 482.7,471.4 482.9,472.0 483.1,472.9 483.3,470.6 483.5,471.0 483.7,471.0 483.9,471.9 484.1,470.7 484.3,472.4 484.5,471.4 484.7,473.1 484.9,472.9 485.1,473.5 485.3,471.2 485.5,471.4 485.7,471.6 485.9,471.4 486.1,471.4 486.3,472.7 486.5,472.5 486.7,470.5 486.9,470.7 487.1,472.7 487.3,472.6 487.5,473.2 487.7,472.9 487.9,472.0 488.1,471.5 488.3,473.2 488.5,472.1 488.7,472.8 488.9,470.6 489.1,472.4 489.3,473.5 489.5,470.3 489.7,470.3 489.9,470.1 490.1,471.8 490.3,472.0 490.5,470.5 490.7,472.0 490.9,473.5 491.1,472.9 491.3,473.3 491.5,471.3 491.7,473.2 491.9,473.2 492.1,470.9 492.3,472.8 492.5,472.3 492.7,471.1 492.9,470.1 493.1,471.2 493.3,472.5 493.5,470.8 493.7,473.4 493.9,471.9 494.1,472.0 494.3,472.8 494.5,471.2 494.7,471.0 494.9,472.2 495.1,471.0 495.3,471.1 495.5,471.2 495.7,472.7 495.9,471.5 496.1,472.6 496.3,472.3 496.5,474.1 496.7,471.3 496.9,472.7 497.1,471.5 497.3,470.7 497.5,472.3 497.7,474.3 497.9,473.5 498.1,472.3 498.3,472.9 498.5,474.4 498.7,474.4 498.9,474.1 499.1,474.3 499.3,473.0 499.5,471.7 499.7,472.0 499.9,473.3 500.1,470.0 500.3,472.0 500.5,471.0 500.7,472.4 500.9,470.5 501.1,471.7 501.3,473.5 501.5,472.3 501.7,471.4 501.9,472.2 502.1,473.8 502.3,471.8 502.5,474.3 502.7,474.5 502.9,473.1 503.1,472.2 503.3,472.0 503.5,473.2 503.7,474.6 503.9,473.4 504.1,472.2 504.3,474.3 504.5,471.9 504.7,474.1 504.9,472.2 505.1,471.0 505.3,473.2 505.5,472.0 505.7,473.3 505.9,470.9 506.1,469.7 506.3,470.7 506.5,470.2 506.7,471.3 506.9,471.9 507.1,471.7 507.3,472.2 507.5,471.1 507.7,471.6 507.9,469.2 508.1,472.5 508.3,471.7 508.5,470.6 508.7,470.9 508.9,470.9 509.1,469.8 509.3,471.8 509.5,469.9 509.7,470.0 509.9,471.5 510.1,470.5 510.3,472.0 510.5,471.4 510.7,470.0 510.9,470.3 511.1,472.6 511.3,471.5 511.5,472.1 511.7,472.7 511.9,469.6 512.1,472.4 512.3,472.1 512.5,470.9 512.7,470.3 512.9,470.1 513.1,470.5 513.3,470.3 513.5,469.5 513.7,472.2 513.9,471.8 514.1,468.9 514.3,469.8 514.5,470.3 514.7,471.5 514.9,468.9 515.1,469.5 515.3,470.7 515.5,470.8 515.7,469.5 515.9,470.9 516.1,469.5 516.3,469.0 516.5,471.0 516.7,469.3 516.9,469.8 517.1,472.0 517.3,472.0 517.5,469.0 517.7,470.8 517.9,468.6 518.1,469.6 518.3,470.8 518.5,468.4 518.7,467.5 518.9,467.4 519.1,468.5 519.3,469.3 519.5,470.2 519.7,469.1 519.9,469.7 520.1,468.0 520.3,467.1 520.5,468.7 520.7,468.0 520.9,469.1 521.1,467.6 521.3,467.3 521.5,468.9 521.7,467.3 521.9,469.5 522.1,469.9 522.3,468.1 522.5,468.6 522.7,469.2 522.9,468.0 523.1,470.1 523.3,468.1 523.5,467.8 523.7,467.7 523.9,467.9 524.1,468.3 524.3,468.8 524.5,469.5 524.7,467.9 524.9,469.8 525.1,468.5 525.3,468.6 525.5,470.0 525.7,467.3 525.9,469.6 526.1,470.4 526.3,469.7 526.5,469.0 526.7,471.2 526.9,470.0 527.1,468.9 527.3,469.4 527.5,470.4 527.7,468.9 527.9,470.3 528.1,468.8 528.3,469.8 528.5,469.9 528.7,470.4 528.9,469.9 529.1,468.7 529.3,470.5 529.5,471.9 529.7,471.2 529.9,472.1 530.1,470.9 530.3,471.1 530.5,471.2 530.7,471.3 530.9,471.5 531.1,470.7 531.3,469.4 531.5,468.0 531.7,470.1 531.9,469.5 532.1,471.8 532.3,470.6 532.5,469.2 532.7,470.4 532.9,472.3 533.1,471.8 533.3,471.4 533.5,469.5 533.7,470.5"/>

<!-- axis -->
<g class="ax">
<line x1="47.6" y1="479.6" x2="534.4" y2="479.6"/>
<line x1="48.3" y1="479.6" x2="48.3" y2="484.6"/>
<line x1="129.2" y1="479.6" x2="129.2" y2="484.6"/>
<line x1="210.1" y1="479.6" x2="210.1" y2="484.6"/>
<line x1="291.0" y1="479.6" x2="291.0" y2="484.6"/>
<line x1="371.9" y1="479.6" x2="371.9" y2="484.6"/>
<line x1="452.8" y1="479.6" x2="452.8" y2="484.6"/>
<line x1="533.7" y1="479.6" x2="533.7" y2="484.6"/>
</g>
<g class="tk">
<text transform="translate(48.9,504.8) scale(0.86,1)">20</text>
<text transform="translate(129.8,504.8) scale(0.86,1)">30</text>
<text transform="translate(210.7,504.8) scale(0.86,1)">40</text>
<text transform="translate(291.6,504.8) scale(0.86,1)">50</text>
<text transform="translate(372.5,504.8) scale(0.86,1)">60</text>
<text transform="translate(453.4,504.8) scale(0.86,1)">70</text>
<text transform="translate(534.3,504.8) scale(0.86,1)">80</text>
</g>

<!-- markers -->
<use href="#cr" x="127.5" y="13.5"/>
<use href="#cr" x="95.0" y="187.7"/>
<use href="#cr" x="142.8" y="193.7"/>
<use href="#cr" x="217.7" y="195.6"/>
<use href="#cr" x="94.4" y="233.5"/>
<use href="#cr" x="141.2" y="233.2"/>
<use href="#cr" x="219.0" y="245.0"/>
<use href="#cr" x="94.7" y="308.7"/>
<use href="#cr" x="139.8" y="281.0"/>
<use href="#cr" x="220.0" y="327.2"/>
<use href="#cr" x="312.7" y="360.3"/>
<use href="#cr" x="339.3" y="365.5"/>
<use href="#cr" x="414.7" y="363.5"/>
<use href="#cr" x="95.3" y="433.0"/>
<use href="#cr" x="141.8" y="401.8"/>
<use href="#cr" x="221.0" y="432.7"/>
<use href="#cr" x="311.0" y="442.5"/>
<use href="#cr" x="338.9" y="445.2"/>
<use href="#cr" x="415.3" y="438.7"/>
<use href="#ht" x="228.4" y="97.0"/>
<use href="#ht" x="120.3" y="117.5"/>
<use href="#ht" x="135.3" y="181.5"/>
<use href="#ht" x="155.5" y="181.5"/>
<use href="#ht" x="271.0" y="162.3"/>
<use href="#ht" x="342.7" y="170.6"/>
<use href="#ht" x="118.5" y="227.2"/>
<use href="#ht" x="154.3" y="249.8"/>
<use href="#ht" x="272.2" y="243.3"/>
<use href="#ht" x="342.0" y="249.5"/>
<use href="#ht" x="116.5" y="361.0"/>
<circle cx="185.3" cy="54.6" r="5.2" fill="#fff" stroke="#000" stroke-width="1.9"/>
<circle cx="189.3" cy="253.3" r="5.2" fill="#fff" stroke="#000" stroke-width="1.9"/>
<circle cx="188.7" cy="368.3" r="5.2" fill="#fff" stroke="#000" stroke-width="1.9"/>
<circle cx="188.4" cy="457.0" r="5.2" fill="#fff" stroke="#000" stroke-width="1.9"/>

<!-- sample labels -->
<filter id="gffa616" x="-25%" y="-50%" width="150%" height="230%"><feGaussianBlur in="SourceAlpha" stdDeviation="2.6" result="b"/><feOffset in="b" dx="1.5" dy="3.5" result="o"/><feFlood flood-color="#ffa616" flood-opacity="0.8"/><feComposite operator="in" in2="o"/><feMerge><feMergeNode/><feMergeNode in="SourceGraphic"/></feMerge></filter>
<text class="b" font-size="17px" transform="translate(466.0,200.2) scale(0.94,1)" filter="url(#gffa616)">BM-Ce<tspan font-size="12px" dy="3.9">0.6</tspan></text>
<filter id="g00f00a" x="-25%" y="-50%" width="150%" height="230%"><feGaussianBlur in="SourceAlpha" stdDeviation="2.6" result="b"/><feOffset in="b" dx="1.5" dy="3.5" result="o"/><feFlood flood-color="#00f00a" flood-opacity="0.8"/><feComposite operator="in" in2="o"/><feMerge><feMergeNode/><feMergeNode in="SourceGraphic"/></feMerge></filter>
<text class="b" font-size="17px" transform="translate(466.0,262.0) scale(0.94,1)" filter="url(#g00f00a)">BM-Ce<tspan font-size="12px" dy="3.9">0.3</tspan></text>
<filter id="gff22cc" x="-25%" y="-50%" width="150%" height="230%"><feGaussianBlur in="SourceAlpha" stdDeviation="2.6" result="b"/><feOffset in="b" dx="1.5" dy="3.5" result="o"/><feFlood flood-color="#ff22cc" flood-opacity="0.8"/><feComposite operator="in" in2="o"/><feMerge><feMergeNode/><feMergeNode in="SourceGraphic"/></feMerge></filter>
<text class="b" font-size="17px" transform="translate(471.8,371.2) scale(0.94,1)" filter="url(#gff22cc)">BM-Ce<tspan font-size="12px" dy="3.9">0.1</tspan></text>
<filter id="g0c18ff" x="-25%" y="-50%" width="150%" height="230%"><feGaussianBlur in="SourceAlpha" stdDeviation="2.6" result="b"/><feOffset in="b" dx="1.5" dy="3.5" result="o"/><feFlood flood-color="#0c18ff" flood-opacity="0.8"/><feComposite operator="in" in2="o"/><feMerge><feMergeNode/><feMergeNode in="SourceGraphic"/></feMerge></filter>
<text class="b" font-size="17px" transform="translate(494.7,454.4) scale(0.94,1)" filter="url(#g0c18ff)">BM</text>

<!-- axis titles -->
<text class="b" font-size="17px" transform="translate(263,534.2) scale(0.92,1)">2&#920; (&#176;)</text>
<text class="b" font-size="17px" letter-spacing="0.5" transform="translate(18.6,407) rotate(-90)">Intensity (a.u)</text>
</svg>
</body>
</html>
